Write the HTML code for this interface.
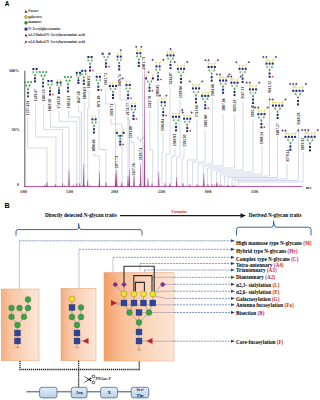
<!DOCTYPE html>
<html><head><meta charset="utf-8"><style>
html,body{margin:0;padding:0;background:#fff;width:319px;height:400px;overflow:hidden}
svg{display:block}
</style></head><body>
<svg width="319" height="400" viewBox="0 0 319 400" font-family="Liberation Serif">
<defs>
<linearGradient id="og" x1="0" y1="0" x2="1" y2="0">
<stop offset="0" stop-color="#f5ad80"/><stop offset="0.25" stop-color="#f8c5a3"/><stop offset="0.65" stop-color="#fbd8c2"/><stop offset="1" stop-color="#fde6d7"/>
</linearGradient>
<linearGradient id="og3" x1="0" y1="0" x2="1" y2="0"><stop offset="0" stop-color="#f39e64"/><stop offset="0.25" stop-color="#f8bf96"/><stop offset="0.62" stop-color="#fbd6bd"/><stop offset="1" stop-color="#fde5d4"/></linearGradient>
<linearGradient id="bg" x1="0" y1="0" x2="0" y2="1">
<stop offset="0" stop-color="#e3effa"/><stop offset="1" stop-color="#b6cfe8"/>
</linearGradient>
<marker id="ar" markerWidth="3.8" markerHeight="3.2" refX="0.2" refY="1.6" orient="auto" markerUnits="userSpaceOnUse"><path d="M0 0L3.8 1.6L0 3.2Z" fill="#26457c"/></marker>
</defs>
<text x="4.8" y="5.8" font-size="6.3" text-anchor="start" fill="#000" font-family="Liberation Sans" font-weight="bold" >A</text>
<path d="M24.4 12.8L26 9.9L27.6 12.8Z" fill="#8a2630"/>
<text x="28.2" y="12.0" font-size="3.6" text-anchor="start" fill="#333" font-family="Liberation Serif" font-weight="bold" >Fucose</text>
<circle cx="26" cy="17.0" r="1.45" fill="#f2e51c" stroke="#4b6b30" stroke-width="0.55"/>
<text x="28.2" y="17.599999999999998" font-size="3.6" text-anchor="start" fill="#333" font-family="Liberation Serif" font-weight="bold" >galactose</text>
<circle cx="26" cy="22.8" r="1.5" fill="#1fa33c" stroke="#2b5a35" stroke-width="0.4"/>
<text x="28.2" y="23.4" font-size="3.6" text-anchor="start" fill="#333" font-family="Liberation Serif" font-weight="bold" >mannose</text>
<rect x="24.60" y="27.70" width="2.8" height="2.8" fill="#1f2c7a"/>
<text x="28.2" y="29.7" font-size="3.6" text-anchor="start" fill="#333" font-family="Liberation Serif" font-weight="bold" >N-Acetylglucosamine</text>
<path d="M26.00 34.10L27.40 35.50L26.00 36.90L24.60 35.50Z" fill="#7a2f8c"/>
<path d="M26.80 36.30 L28.20 37.70" fill="none" stroke="#444" stroke-width="0.4" />
<text x="28.2" y="36.1" font-size="3.6" text-anchor="start" fill="#333" font-family="Liberation Serif" font-weight="bold" >α2,3-linked N-Acetylneuraminic acid</text>
<path d="M26.00 40.50L27.40 41.90L26.00 43.30L24.60 41.90Z" fill="#7a2f8c"/>
<path d="M25.20 42.70 L23.80 44.10" fill="none" stroke="#444" stroke-width="0.4" />
<text x="28.2" y="42.5" font-size="3.6" text-anchor="start" fill="#333" font-family="Liberation Serif" font-weight="bold" >α2,6-linked N-Acetylneuraminic acid</text>
<text x="19" y="72.3" font-size="4.0" text-anchor="end" fill="#222" font-family="Liberation Serif" font-weight="bold" >100%</text>
<text x="19.4" y="131.0" font-size="4.0" text-anchor="end" fill="#222" font-family="Liberation Serif" font-weight="bold" >50%</text>
<text x="19" y="185.9" font-size="3.8" text-anchor="end" fill="#222" font-family="Liberation Serif" font-weight="bold" >0</text>
<path d="M24.80 70.80 L24.80 187.00" fill="none" stroke="#666" stroke-width="1.1" />
<text x="23.5" y="192.8" font-size="3.6" text-anchor="middle" fill="#333" font-family="Liberation Serif" font-weight="bold" >1000</text>
<text x="69.5" y="192.8" font-size="3.6" text-anchor="middle" fill="#333" font-family="Liberation Serif" font-weight="bold" >1500</text>
<text x="114.5" y="192.8" font-size="3.6" text-anchor="middle" fill="#333" font-family="Liberation Serif" font-weight="bold" >2000</text>
<text x="161.5" y="192.8" font-size="3.6" text-anchor="middle" fill="#333" font-family="Liberation Serif" font-weight="bold" >2500</text>
<text x="208.0" y="192.8" font-size="3.6" text-anchor="middle" fill="#333" font-family="Liberation Serif" font-weight="bold" >3000</text>
<text x="254.5" y="192.8" font-size="3.6" text-anchor="middle" fill="#333" font-family="Liberation Serif" font-weight="bold" >3500</text>
<text x="308.7" y="189.2" font-size="3.4" text-anchor="middle" fill="#222" font-family="Liberation Serif" font-weight="bold" >m/z</text>
<path d="M27.60 117.00 L27.60 148.00 L47.00 148.00 L47.00 186.00" fill="none" stroke="#aebad4" stroke-width="0.55" />
<path d="M35.70 103.00 L35.70 137.00 L56.00 137.00 L56.00 186.00" fill="none" stroke="#aebad4" stroke-width="0.55" />
<path d="M43.70 104.00 L43.70 129.60 L62.60 129.60 L62.60 186.00" fill="none" stroke="#aebad4" stroke-width="0.55" />
<path d="M50.40 113.00 L50.40 127.20 L69.00 127.20 L69.00 186.00" fill="none" stroke="#aebad4" stroke-width="0.55" />
<path d="M59.00 111.00 L59.00 121.40 L76.80 121.40 L76.80 186.00" fill="none" stroke="#aebad4" stroke-width="0.55" />
<path d="M68.50 111.00 L68.50 117.00 L79.80 117.00 L79.80 186.00" fill="none" stroke="#aebad4" stroke-width="0.55" />
<path d="M78.60 105.40 L78.60 112.00 L81.50 112.00 L81.50 186.00" fill="none" stroke="#aebad4" stroke-width="0.55" />
<path d="M84.20 101.00 L84.20 186.00" fill="none" stroke="#aebad4" stroke-width="0.55" />
<path d="M89.00 90.00 L89.00 108.00 L87.70 108.00 L87.70 186.00" fill="none" stroke="#aebad4" stroke-width="0.55" />
<path d="M94.00 153.00 L94.00 156.00 L99.40 156.00 L99.40 186.00" fill="none" stroke="#aebad4" stroke-width="0.55" />
<path d="M99.00 109.00 L99.00 149.50 L106.00 149.50 L106.00 186.00" fill="none" stroke="#aebad4" stroke-width="0.55" />
<path d="M105.70 87.00 L105.70 104.00 L115.50 104.00 L115.50 186.00" fill="none" stroke="#aebad4" stroke-width="0.55" />
<path d="M111.00 119.00 L111.00 124.00 L122.00 124.00 L122.00 186.00" fill="none" stroke="#aebad4" stroke-width="0.55" />
<path d="M116.70 170.00 L116.70 186.00" fill="none" stroke="#aebad4" stroke-width="0.55" />
<path d="M120.00 87.00 L120.00 100.00 L128.00 100.00 L128.00 186.00" fill="none" stroke="#aebad4" stroke-width="0.55" />
<path d="M128.00 117.00 L128.00 120.00 L129.50 120.00 L129.50 186.00" fill="none" stroke="#aebad4" stroke-width="0.55" />
<path d="M131.00 140.00 L131.00 142.00 L134.00 142.00 L134.00 186.00" fill="none" stroke="#aebad4" stroke-width="0.55" />
<path d="M142.50 73.00 L142.50 186.00" fill="none" stroke="#aebad4" stroke-width="0.55" />
<path d="M134.00 177.00 L134.00 186.00" fill="none" stroke="#aebad4" stroke-width="0.55" />
<path d="M140.30 167.00 L140.30 186.00" fill="none" stroke="#aebad4" stroke-width="0.55" />
<path d="M149.80 109.50 L149.80 150.00 L152.70 150.00 L152.70 186.00" fill="none" stroke="#aebad4" stroke-width="0.55" />
<path d="M158.00 98.00 L158.00 186.00" fill="none" stroke="#aebad4" stroke-width="0.55" />
<path d="M163.00 133.00 L163.00 152.50 L162.00 152.50 L162.00 186.00" fill="none" stroke="#aebad4" stroke-width="0.55" />
<path d="M170.00 85.00 L170.00 154.00 L166.00 154.00 L166.00 186.00" fill="none" stroke="#aebad4" stroke-width="0.55" />
<path d="M175.00 148.00 L175.00 156.00 L171.30 156.00 L171.30 186.00" fill="none" stroke="#aebad4" stroke-width="0.55" />
<path d="M180.00 99.00 L180.00 157.00 L176.60 157.00 L176.60 186.00" fill="none" stroke="#aebad4" stroke-width="0.55" />
<path d="M184.00 148.00 L184.00 158.00 L182.00 158.00 L182.00 186.00" fill="none" stroke="#aebad4" stroke-width="0.55" />
<path d="M197.00 119.00 L197.00 160.00 L187.30 160.00 L187.30 186.00" fill="none" stroke="#aebad4" stroke-width="0.55" />
<path d="M205.20 130.00 L205.20 162.00 L192.60 162.00 L192.60 186.00" fill="none" stroke="#aebad4" stroke-width="0.55" />
<path d="M212.40 98.00 L212.40 164.00 L198.00 164.00 L198.00 186.00" fill="none" stroke="#aebad4" stroke-width="0.55" />
<path d="M223.10 114.00 L223.10 166.00 L203.30 166.00 L203.30 186.00" fill="none" stroke="#aebad4" stroke-width="0.55" />
<path d="M234.70 114.00 L234.70 168.00 L207.30 168.00 L207.30 186.00" fill="none" stroke="#aebad4" stroke-width="0.55" />
<path d="M242.90 101.00 L242.90 170.00 L211.30 170.00 L211.30 186.00" fill="none" stroke="#aebad4" stroke-width="0.55" />
<path d="M253.00 119.00 L253.00 172.00 L216.60 172.00 L216.60 186.00" fill="none" stroke="#aebad4" stroke-width="0.55" />
<path d="M262.00 146.00 L262.00 174.00 L220.60 174.00 L220.60 186.00" fill="none" stroke="#aebad4" stroke-width="0.55" />
<path d="M269.50 95.00 L269.50 176.00 L224.60 176.00 L224.60 186.00" fill="none" stroke="#aebad4" stroke-width="0.55" />
<path d="M277.60 137.00 L277.60 177.50 L228.00 177.50 L228.00 186.00" fill="none" stroke="#aebad4" stroke-width="0.55" />
<path d="M287.00 164.00 L287.00 179.00 L232.00 179.00 L232.00 186.00" fill="none" stroke="#aebad4" stroke-width="0.55" />
<path d="M298.50 128.00 L298.50 180.50 L235.00 180.50 L235.00 186.00" fill="none" stroke="#aebad4" stroke-width="0.55" />
<path d="M303.00 152.00 L303.00 182.00 L238.00 182.00 L238.00 186.00" fill="none" stroke="#aebad4" stroke-width="0.55" />
<path d="M46.45 186.5L47.00 182L47.55 186.5Z" fill="#a2347f" stroke="#a2347f" stroke-width="0.2"/>
<path d="M54.95 186.5L55.50 184L56.05 186.5Z" fill="#a2347f" stroke="#a2347f" stroke-width="0.2"/>
<path d="M62.05 186.5L62.60 183L63.15 186.5Z" fill="#a2347f" stroke="#a2347f" stroke-width="0.2"/>
<path d="M68.45 186.5L69.00 170L69.55 186.5Z" fill="#a2347f" stroke="#a2347f" stroke-width="0.2"/>
<path d="M76.25 186.5L76.80 183L77.35 186.5Z" fill="#a2347f" stroke="#a2347f" stroke-width="0.2"/>
<path d="M79.25 186.5L79.80 183L80.35 186.5Z" fill="#a2347f" stroke="#a2347f" stroke-width="0.2"/>
<path d="M83.05 186.5L83.60 164L84.15 186.5Z" fill="#a2347f" stroke="#a2347f" stroke-width="0.2"/>
<path d="M87.15 186.5L87.70 180L88.25 186.5Z" fill="#a2347f" stroke="#a2347f" stroke-width="0.2"/>
<path d="M98.85 186.5L99.40 172L99.95 186.5Z" fill="#a2347f" stroke="#a2347f" stroke-width="0.2"/>
<path d="M105.45 186.5L106.00 182L106.55 186.5Z" fill="#a2347f" stroke="#a2347f" stroke-width="0.2"/>
<path d="M114.95 186.5L115.50 174L116.05 186.5Z" fill="#a2347f" stroke="#a2347f" stroke-width="0.2"/>
<path d="M116.15 186.5L116.70 170L117.25 186.5Z" fill="#a2347f" stroke="#a2347f" stroke-width="0.2"/>
<path d="M121.45 186.5L122.00 182L122.55 186.5Z" fill="#a2347f" stroke="#a2347f" stroke-width="0.2"/>
<path d="M127.45 186.5L128.00 176L128.55 186.5Z" fill="#a2347f" stroke="#a2347f" stroke-width="0.2"/>
<path d="M128.95 186.5L129.50 170L130.05 186.5Z" fill="#a2347f" stroke="#a2347f" stroke-width="0.2"/>
<path d="M133.45 186.5L134.00 176L134.55 186.5Z" fill="#a2347f" stroke="#a2347f" stroke-width="0.2"/>
<path d="M140.15 186.5L140.70 162.5L141.25 186.5Z" fill="#a2347f" stroke="#a2347f" stroke-width="0.2"/>
<path d="M143.85 186.5L144.40 68L144.95 186.5Z" fill="#a2347f" stroke="#a2347f" stroke-width="0.2"/>
<path d="M147.45 186.5L148.00 178L148.55 186.5Z" fill="#a2347f" stroke="#a2347f" stroke-width="0.2"/>
<path d="M151.45 186.5L152.00 183L152.55 186.5Z" fill="#a2347f" stroke="#a2347f" stroke-width="0.2"/>
<path d="M158.25 186.5L158.80 172L159.35 186.5Z" fill="#a2347f" stroke="#a2347f" stroke-width="0.2"/>
<path d="M164.45 186.5L165.00 183L165.55 186.5Z" fill="#a2347f" stroke="#a2347f" stroke-width="0.2"/>
<path d="M169.45 186.5L170.00 183L170.55 186.5Z" fill="#a2347f" stroke="#a2347f" stroke-width="0.2"/>
<path d="M175.95 186.5L176.50 177L177.05 186.5Z" fill="#a2347f" stroke="#a2347f" stroke-width="0.2"/>
<path d="M182.45 186.5L183.00 183L183.55 186.5Z" fill="#a2347f" stroke="#a2347f" stroke-width="0.2"/>
<path d="M189.45 186.5L190.00 184L190.55 186.5Z" fill="#a2347f" stroke="#a2347f" stroke-width="0.2"/>
<path d="M196.45 186.5L197.00 184L197.55 186.5Z" fill="#a2347f" stroke="#a2347f" stroke-width="0.2"/>
<path d="M203.35 186.5L203.90 173L204.45 186.5Z" fill="#a2347f" stroke="#a2347f" stroke-width="0.2"/>
<path d="M207.45 186.5L208.00 184L208.55 186.5Z" fill="#a2347f" stroke="#a2347f" stroke-width="0.2"/>
<path d="M211.45 186.5L212.00 184L212.55 186.5Z" fill="#a2347f" stroke="#a2347f" stroke-width="0.2"/>
<path d="M216.45 186.5L217.00 182L217.55 186.5Z" fill="#a2347f" stroke="#a2347f" stroke-width="0.2"/>
<path d="M221.45 186.5L222.00 184.5L222.55 186.5Z" fill="#a2347f" stroke="#a2347f" stroke-width="0.2"/>
<path d="M227.45 186.5L228.00 185L228.55 186.5Z" fill="#a2347f" stroke="#a2347f" stroke-width="0.2"/>
<path d="M232.45 186.5L233.00 185L233.55 186.5Z" fill="#a2347f" stroke="#a2347f" stroke-width="0.2"/>
<path d="M25.00 186.6L25.50 186.31L26.00 186.6Z" fill="#a2347f"/>
<path d="M26.47 186.6L26.97 185.68L27.47 186.6Z" fill="#a2347f"/>
<path d="M27.80 186.6L28.30 186.00L28.80 186.6Z" fill="#a2347f"/>
<path d="M29.66 186.6L30.16 186.40L30.66 186.6Z" fill="#a2347f"/>
<path d="M31.77 186.6L32.27 186.40L32.77 186.6Z" fill="#a2347f"/>
<path d="M33.75 186.6L34.25 186.40L34.75 186.6Z" fill="#a2347f"/>
<path d="M35.12 186.6L35.62 186.20L36.12 186.6Z" fill="#a2347f"/>
<path d="M37.81 186.6L38.31 186.40L38.81 186.6Z" fill="#a2347f"/>
<path d="M39.41 186.6L39.91 185.76L40.41 186.6Z" fill="#a2347f"/>
<path d="M42.31 186.6L42.81 185.90L43.31 186.6Z" fill="#a2347f"/>
<path d="M44.23 186.6L44.73 183.98L45.23 186.6Z" fill="#a2347f"/>
<path d="M45.51 186.6L46.01 184.76L46.51 186.6Z" fill="#a2347f"/>
<path d="M47.23 186.6L47.73 186.39L48.23 186.6Z" fill="#a2347f"/>
<path d="M48.64 186.6L49.14 186.32L49.64 186.6Z" fill="#a2347f"/>
<path d="M51.31 186.6L51.81 186.38L52.31 186.6Z" fill="#a2347f"/>
<path d="M53.56 186.6L54.06 185.72L54.56 186.6Z" fill="#a2347f"/>
<path d="M55.43 186.6L55.93 185.97L56.43 186.6Z" fill="#a2347f"/>
<path d="M56.74 186.6L57.24 186.40L57.74 186.6Z" fill="#a2347f"/>
<path d="M58.31 186.6L58.81 185.58L59.31 186.6Z" fill="#a2347f"/>
<path d="M60.28 186.6L60.78 186.30L61.28 186.6Z" fill="#a2347f"/>
<path d="M62.54 186.6L63.04 186.11L63.54 186.6Z" fill="#a2347f"/>
<path d="M64.28 186.6L64.78 184.84L65.28 186.6Z" fill="#a2347f"/>
<path d="M66.74 186.6L67.24 186.35L67.74 186.6Z" fill="#a2347f"/>
<path d="M68.97 186.6L69.47 185.95L69.97 186.6Z" fill="#a2347f"/>
<path d="M71.75 186.6L72.25 185.19L72.75 186.6Z" fill="#a2347f"/>
<path d="M73.46 186.6L73.96 183.46L74.46 186.6Z" fill="#a2347f"/>
<path d="M74.88 186.6L75.38 186.17L75.88 186.6Z" fill="#a2347f"/>
<path d="M77.44 186.6L77.94 186.39L78.44 186.6Z" fill="#a2347f"/>
<path d="M79.52 186.6L80.02 186.40L80.52 186.6Z" fill="#a2347f"/>
<path d="M81.92 186.6L82.42 185.01L82.92 186.6Z" fill="#a2347f"/>
<path d="M84.15 186.6L84.65 184.31L85.15 186.6Z" fill="#a2347f"/>
<path d="M85.92 186.6L86.42 185.35L86.92 186.6Z" fill="#a2347f"/>
<path d="M88.19 186.6L88.69 185.79L89.19 186.6Z" fill="#a2347f"/>
<path d="M90.21 186.6L90.71 184.55L91.21 186.6Z" fill="#a2347f"/>
<path d="M93.11 186.6L93.61 186.07L94.11 186.6Z" fill="#a2347f"/>
<path d="M95.50 186.6L96.00 186.40L96.50 186.6Z" fill="#a2347f"/>
<path d="M97.97 186.6L98.47 185.55L98.97 186.6Z" fill="#a2347f"/>
<path d="M100.96 186.6L101.46 184.67L101.96 186.6Z" fill="#a2347f"/>
<path d="M102.67 186.6L103.17 186.22L103.67 186.6Z" fill="#a2347f"/>
<path d="M105.07 186.6L105.57 186.40L106.07 186.6Z" fill="#a2347f"/>
<path d="M107.10 186.6L107.60 186.39L108.10 186.6Z" fill="#a2347f"/>
<path d="M108.51 186.6L109.01 186.40L109.51 186.6Z" fill="#a2347f"/>
<path d="M111.10 186.6L111.60 186.39L112.10 186.6Z" fill="#a2347f"/>
<path d="M112.74 186.6L113.24 186.21L113.74 186.6Z" fill="#a2347f"/>
<path d="M115.51 186.6L116.01 186.40L116.51 186.6Z" fill="#a2347f"/>
<path d="M117.52 186.6L118.02 185.88L118.52 186.6Z" fill="#a2347f"/>
<path d="M120.31 186.6L120.81 184.68L121.31 186.6Z" fill="#a2347f"/>
<path d="M123.06 186.6L123.56 186.33L124.06 186.6Z" fill="#a2347f"/>
<path d="M125.01 186.6L125.51 186.26L126.01 186.6Z" fill="#a2347f"/>
<path d="M127.80 186.6L128.30 183.66L128.80 186.6Z" fill="#a2347f"/>
<path d="M129.27 186.6L129.77 186.38L130.27 186.6Z" fill="#a2347f"/>
<path d="M130.89 186.6L131.39 186.36L131.89 186.6Z" fill="#a2347f"/>
<path d="M132.96 186.6L133.46 185.76L133.96 186.6Z" fill="#a2347f"/>
<path d="M134.64 186.6L135.14 186.40L135.64 186.6Z" fill="#a2347f"/>
<path d="M136.59 186.6L137.09 186.24L137.59 186.6Z" fill="#a2347f"/>
<path d="M138.81 186.6L139.31 183.70L139.81 186.6Z" fill="#a2347f"/>
<path d="M141.25 186.6L141.75 185.97L142.25 186.6Z" fill="#a2347f"/>
<path d="M143.57 186.6L144.07 185.44L144.57 186.6Z" fill="#a2347f"/>
<path d="M144.86 186.6L145.36 184.13L145.86 186.6Z" fill="#a2347f"/>
<path d="M147.47 186.6L147.97 184.31L148.47 186.6Z" fill="#a2347f"/>
<path d="M150.10 186.6L150.60 186.21L151.10 186.6Z" fill="#a2347f"/>
<path d="M152.02 186.6L152.52 186.40L153.02 186.6Z" fill="#a2347f"/>
<path d="M154.36 186.6L154.86 186.40L155.36 186.6Z" fill="#a2347f"/>
<path d="M155.68 186.6L156.18 186.37L156.68 186.6Z" fill="#a2347f"/>
<path d="M157.18 186.6L157.68 186.28L158.18 186.6Z" fill="#a2347f"/>
<path d="M158.47 186.6L158.97 186.40L159.47 186.6Z" fill="#a2347f"/>
<path d="M159.94 186.6L160.44 186.40L160.94 186.6Z" fill="#a2347f"/>
<path d="M161.80 186.6L162.30 186.40L162.80 186.6Z" fill="#a2347f"/>
<path d="M164.57 186.6L165.07 185.68L165.57 186.6Z" fill="#a2347f"/>
<path d="M166.04 186.6L166.54 186.35L167.04 186.6Z" fill="#a2347f"/>
<path d="M167.86 186.6L168.36 186.25L168.86 186.6Z" fill="#a2347f"/>
<path d="M169.29 186.6L169.79 184.49L170.29 186.6Z" fill="#a2347f"/>
<path d="M172.27 186.6L172.77 186.08L173.27 186.6Z" fill="#a2347f"/>
<path d="M174.34 186.6L174.84 186.40L175.34 186.6Z" fill="#a2347f"/>
<path d="M175.73 186.6L176.23 186.27L176.73 186.6Z" fill="#a2347f"/>
<path d="M177.40 186.6L177.90 184.62L178.40 186.6Z" fill="#a2347f"/>
<path d="M178.90 186.6L179.40 186.40L179.90 186.6Z" fill="#a2347f"/>
<path d="M181.81 186.6L182.31 185.94L182.81 186.6Z" fill="#a2347f"/>
<path d="M183.27 186.6L183.77 185.90L184.27 186.6Z" fill="#a2347f"/>
<path d="M184.52 186.6L185.02 185.94L185.52 186.6Z" fill="#a2347f"/>
<path d="M187.48 186.6L187.98 184.39L188.48 186.6Z" fill="#a2347f"/>
<path d="M189.93 186.6L190.43 186.34L190.93 186.6Z" fill="#a2347f"/>
<path d="M191.79 186.6L192.29 186.39L192.79 186.6Z" fill="#a2347f"/>
<path d="M194.38 186.6L194.88 185.93L195.38 186.6Z" fill="#a2347f"/>
<path d="M196.99 186.6L197.49 186.29L197.99 186.6Z" fill="#a2347f"/>
<path d="M198.59 186.6L199.09 184.73L199.59 186.6Z" fill="#a2347f"/>
<path d="M201.56 186.6L202.06 184.47L202.56 186.6Z" fill="#a2347f"/>
<path d="M204.21 186.6L204.71 184.69L205.21 186.6Z" fill="#a2347f"/>
<path d="M206.74 186.6L207.24 186.36L207.74 186.6Z" fill="#a2347f"/>
<path d="M208.87 186.6L209.37 186.26L209.87 186.6Z" fill="#a2347f"/>
<path d="M210.13 186.6L210.63 186.40L211.13 186.6Z" fill="#a2347f"/>
<path d="M211.83 186.6L212.33 186.35L212.83 186.6Z" fill="#a2347f"/>
<path d="M214.28 186.6L214.78 183.67L215.28 186.6Z" fill="#a2347f"/>
<path d="M216.28 186.6L216.78 183.83L217.28 186.6Z" fill="#a2347f"/>
<path d="M219.26 186.6L219.76 183.68L220.26 186.6Z" fill="#a2347f"/>
<path d="M221.12 186.6L221.62 186.37L222.12 186.6Z" fill="#a2347f"/>
<path d="M222.72 186.6L223.22 186.38L223.72 186.6Z" fill="#a2347f"/>
<path d="M224.29 186.6L224.79 185.77L225.29 186.6Z" fill="#a2347f"/>
<path d="M227.11 186.6L227.61 184.86L228.11 186.6Z" fill="#a2347f"/>
<path d="M229.18 186.6L229.68 185.68L230.18 186.6Z" fill="#a2347f"/>
<path d="M231.82 186.6L232.32 186.40L232.82 186.6Z" fill="#a2347f"/>
<path d="M234.20 186.6L234.70 185.65L235.20 186.6Z" fill="#a2347f"/>
<path d="M236.81 186.6L237.31 185.98L237.81 186.6Z" fill="#a2347f"/>
<path d="M238.87 186.6L239.37 186.39L239.87 186.6Z" fill="#a2347f"/>
<path d="M241.49 186.6L241.99 186.36L242.49 186.6Z" fill="#a2347f"/>
<path d="M244.13 186.6L244.63 185.48L245.13 186.6Z" fill="#a2347f"/>
<path d="M246.05 186.6L246.55 186.34L247.05 186.6Z" fill="#a2347f"/>
<path d="M248.95 186.6L249.45 186.02L249.95 186.6Z" fill="#a2347f"/>
<path d="M250.46 186.6L250.96 186.40L251.46 186.6Z" fill="#a2347f"/>
<path d="M251.93 186.6L252.43 185.66L252.93 186.6Z" fill="#a2347f"/>
<path d="M254.58 186.6L255.08 186.40L255.58 186.6Z" fill="#a2347f"/>
<path d="M257.27 186.6L257.77 185.46L258.27 186.6Z" fill="#a2347f"/>
<path d="M259.65 186.6L260.15 186.36L260.65 186.6Z" fill="#a2347f"/>
<path d="M261.84 186.6L262.34 186.40L262.84 186.6Z" fill="#a2347f"/>
<path d="M263.07 186.6L263.57 185.48L264.07 186.6Z" fill="#a2347f"/>
<path d="M265.43 186.6L265.93 186.25L266.43 186.6Z" fill="#a2347f"/>
<path d="M268.32 186.6L268.82 186.32L269.32 186.6Z" fill="#a2347f"/>
<path d="M271.08 186.6L271.58 185.84L272.08 186.6Z" fill="#a2347f"/>
<path d="M272.66 186.6L273.16 186.38L273.66 186.6Z" fill="#a2347f"/>
<path d="M274.39 186.6L274.89 186.39L275.39 186.6Z" fill="#a2347f"/>
<path d="M276.65 186.6L277.15 186.38L277.65 186.6Z" fill="#a2347f"/>
<path d="M278.60 186.6L279.10 186.40L279.60 186.6Z" fill="#a2347f"/>
<path d="M281.44 186.6L281.94 186.36L282.44 186.6Z" fill="#a2347f"/>
<path d="M283.46 186.6L283.96 186.20L284.46 186.6Z" fill="#a2347f"/>
<path d="M286.29 186.6L286.79 186.33L287.29 186.6Z" fill="#a2347f"/>
<path d="M289.14 186.6L289.64 186.27L290.14 186.6Z" fill="#a2347f"/>
<path d="M291.30 186.6L291.80 186.26L292.30 186.6Z" fill="#a2347f"/>
<path d="M292.53 186.6L293.03 186.31L293.53 186.6Z" fill="#a2347f"/>
<path d="M294.06 186.6L294.56 186.40L295.06 186.6Z" fill="#a2347f"/>
<path d="M296.70 186.6L297.20 186.39L297.70 186.6Z" fill="#a2347f"/>
<path d="M298.76 186.6L299.26 186.02L299.76 186.6Z" fill="#a2347f"/>
<path d="M24.40 186.60 L302.00 186.60" fill="none" stroke="#a83b86" stroke-width="0.9" />
<path d="M25.00 82.00 L28.00 89.20 L31.00 82.00" fill="none" stroke="#888" stroke-width="0.35" />
<path d="M28.00 89.20 L28.00 96.40" fill="none" stroke="#888" stroke-width="0.35" />
<circle cx="24.80" cy="82.00" r="0.95" fill="#1fa33c"/>
<circle cx="28.00" cy="82.00" r="0.95" fill="#1fa33c"/>
<circle cx="31.20" cy="82.00" r="0.95" fill="#1fa33c"/>
<circle cx="26.40" cy="85.60" r="0.95" fill="#1fa33c"/>
<circle cx="29.60" cy="85.60" r="0.95" fill="#1fa33c"/>
<circle cx="28.00" cy="89.20" r="0.95" fill="#1fa33c"/>
<rect x="27.05" y="91.85" width="1.9" height="1.9" fill="#1f2c7a"/>
<rect x="27.05" y="95.45" width="1.9" height="1.9" fill="#1f2c7a"/>
<text transform="translate(29.00 108.00) rotate(-90)" font-size="3.8" text-anchor="middle" fill="#222" font-family="Liberation Serif" font-weight="bold">1257.424</text>
<path d="M35.00 81.40 L35.00 75.20" fill="none" stroke="#999" stroke-width="0.35" />
<path d="M33.40 69.00 L33.20 72.10 L35.00 75.20" fill="none" stroke="#9c9c9c" stroke-width="0.35" />
<path d="M36.60 69.00 L36.80 72.10 L35.00 75.20" fill="none" stroke="#9c9c9c" stroke-width="0.35" />
<rect x="32.40" y="68.00" width="2.0" height="2.0" fill="#1f2c7a"/>
<rect x="35.60" y="68.00" width="2.0" height="2.0" fill="#1f2c7a"/>
<circle cx="33.20" cy="72.10" r="0.9" fill="#4fae5c"/>
<circle cx="36.80" cy="72.10" r="0.9" fill="#4fae5c"/>
<circle cx="35.00" cy="75.20" r="0.9" fill="#3c8f4c"/>
<rect x="34.00" y="77.30" width="2.0" height="2.0" fill="#1f2c7a"/>
<rect x="34.00" y="80.40" width="2.0" height="2.0" fill="#1f2c7a"/>
<text transform="translate(37.10 95.00) rotate(-90)" font-size="3.8" text-anchor="middle" fill="#222" font-family="Liberation Serif" font-weight="bold">1419.47</text>
<path d="M40.00 72.00 L43.00 79.20 L46.00 72.00" fill="none" stroke="#888" stroke-width="0.35" />
<path d="M43.00 79.20 L43.00 86.40" fill="none" stroke="#888" stroke-width="0.35" />
<circle cx="39.80" cy="72.00" r="0.95" fill="#1fa33c"/>
<circle cx="43.00" cy="72.00" r="0.95" fill="#1fa33c"/>
<circle cx="46.20" cy="72.00" r="0.95" fill="#1fa33c"/>
<circle cx="41.40" cy="75.60" r="0.95" fill="#1fa33c"/>
<circle cx="44.60" cy="75.60" r="0.95" fill="#1fa33c"/>
<circle cx="43.00" cy="79.20" r="0.95" fill="#1fa33c"/>
<rect x="42.05" y="81.85" width="1.9" height="1.9" fill="#1f2c7a"/>
<rect x="42.05" y="85.45" width="1.9" height="1.9" fill="#1f2c7a"/>
<text transform="translate(45.10 95.50) rotate(-90)" font-size="3.8" text-anchor="middle" fill="#222" font-family="Liberation Serif" font-weight="bold">1581.53</text>
<path d="M50.00 94.60 L50.00 87.80" fill="none" stroke="#999" stroke-width="0.35" />
<path d="M48.40 81.00 L48.20 84.40 L50.00 87.80" fill="none" stroke="#9c9c9c" stroke-width="0.35" />
<path d="M51.60 81.00 L51.80 84.40 L50.00 87.80" fill="none" stroke="#9c9c9c" stroke-width="0.35" />
<rect x="47.40" y="80.00" width="2.0" height="2.0" fill="#1f2c7a"/>
<rect x="50.60" y="80.00" width="2.0" height="2.0" fill="#1f2c7a"/>
<circle cx="48.20" cy="84.40" r="0.9" fill="#4fae5c"/>
<circle cx="51.80" cy="84.40" r="0.9" fill="#4fae5c"/>
<circle cx="50.00" cy="87.80" r="0.9" fill="#3c8f4c"/>
<rect x="49.00" y="90.20" width="2.0" height="2.0" fill="#1f2c7a"/>
<rect x="49.00" y="93.60" width="2.0" height="2.0" fill="#1f2c7a"/>
<path d="M51.60 94.60L53.60 93.60L53.60 95.60Z" fill="#cc1f2e"/>
<text transform="translate(51.40 105.00) rotate(-90)" font-size="3.8" text-anchor="middle" fill="#222" font-family="Liberation Serif" font-weight="bold">1663.58</text>
<path d="M59.00 93.00 L59.00 87.80" fill="none" stroke="#999" stroke-width="0.35" />
<path d="M57.40 82.60 L57.20 85.20 L59.00 87.80" fill="none" stroke="#9c9c9c" stroke-width="0.35" />
<path d="M60.60 82.60 L60.80 85.20 L59.00 87.80" fill="none" stroke="#9c9c9c" stroke-width="0.35" />
<path d="M57.40 80.00 L57.40 82.60" fill="none" stroke="#c8c27a" stroke-width="0.4" />
<circle cx="57.40" cy="80.00" r="0.85" fill="#e9df55"/>
<path d="M60.60 80.00 L60.60 82.60" fill="none" stroke="#c8c27a" stroke-width="0.4" />
<circle cx="60.60" cy="80.00" r="0.85" fill="#e9df55"/>
<rect x="56.40" y="81.60" width="2.0" height="2.0" fill="#1f2c7a"/>
<rect x="59.60" y="81.60" width="2.0" height="2.0" fill="#1f2c7a"/>
<circle cx="57.20" cy="85.20" r="0.9" fill="#4fae5c"/>
<circle cx="60.80" cy="85.20" r="0.9" fill="#4fae5c"/>
<circle cx="59.00" cy="87.80" r="0.9" fill="#3c8f4c"/>
<rect x="58.00" y="89.40" width="2.0" height="2.0" fill="#1f2c7a"/>
<rect x="58.00" y="92.00" width="2.0" height="2.0" fill="#1f2c7a"/>
<text transform="translate(60.40 102.50) rotate(-90)" font-size="3.8" text-anchor="middle" fill="#222" font-family="Liberation Serif" font-weight="bold">1743.58</text>
<path d="M65.00 77.00 L68.00 84.20 L71.00 77.00" fill="none" stroke="#888" stroke-width="0.35" />
<path d="M68.00 84.20 L68.00 91.40" fill="none" stroke="#888" stroke-width="0.35" />
<circle cx="64.80" cy="77.00" r="0.95" fill="#1fa33c"/>
<circle cx="68.00" cy="77.00" r="0.95" fill="#1fa33c"/>
<circle cx="71.20" cy="77.00" r="0.95" fill="#1fa33c"/>
<circle cx="66.40" cy="80.60" r="0.95" fill="#1fa33c"/>
<circle cx="69.60" cy="80.60" r="0.95" fill="#1fa33c"/>
<circle cx="68.00" cy="84.20" r="0.95" fill="#1fa33c"/>
<rect x="67.05" y="86.85" width="1.9" height="1.9" fill="#1f2c7a"/>
<rect x="67.05" y="90.45" width="1.9" height="1.9" fill="#1f2c7a"/>
<text transform="translate(69.90 102.00) rotate(-90)" font-size="3.8" text-anchor="middle" fill="#222" font-family="Liberation Serif" font-weight="bold">1905.63</text>
<path d="M83.80 84.00 L83.80 77.40" fill="none" stroke="#999" stroke-width="0.35" />
<path d="M82.20 70.80 L82.00 74.10 L83.80 77.40" fill="none" stroke="#9c9c9c" stroke-width="0.35" />
<path d="M85.40 70.80 L85.60 74.10 L83.80 77.40" fill="none" stroke="#9c9c9c" stroke-width="0.35" />
<rect x="81.20" y="69.80" width="2.0" height="2.0" fill="#1f2c7a"/>
<rect x="84.40" y="69.80" width="2.0" height="2.0" fill="#1f2c7a"/>
<circle cx="82.00" cy="74.10" r="0.9" fill="#4fae5c"/>
<circle cx="85.60" cy="74.10" r="0.9" fill="#4fae5c"/>
<circle cx="83.80" cy="77.40" r="0.9" fill="#3c8f4c"/>
<rect x="82.80" y="79.70" width="2.0" height="2.0" fill="#1f2c7a"/>
<rect x="82.80" y="83.00" width="2.0" height="2.0" fill="#1f2c7a"/>
<text transform="translate(85.60 93.30) rotate(-90)" font-size="3.8" text-anchor="middle" fill="#222" font-family="Liberation Serif" font-weight="bold">1809.63</text>
<path d="M78.40 83.00 L78.40 77.90" fill="none" stroke="#999" stroke-width="0.35" />
<path d="M76.80 72.80 L76.60 75.35 L78.40 77.90" fill="none" stroke="#9c9c9c" stroke-width="0.35" />
<path d="M80.00 72.80 L80.20 75.35 L78.40 77.90" fill="none" stroke="#9c9c9c" stroke-width="0.35" />
<rect x="75.80" y="71.80" width="2.0" height="2.0" fill="#1f2c7a"/>
<rect x="79.00" y="71.80" width="2.0" height="2.0" fill="#1f2c7a"/>
<circle cx="76.60" cy="75.35" r="0.9" fill="#4fae5c"/>
<circle cx="80.20" cy="75.35" r="0.9" fill="#4fae5c"/>
<circle cx="78.40" cy="77.90" r="0.9" fill="#3c8f4c"/>
<rect x="77.40" y="79.45" width="2.0" height="2.0" fill="#1f2c7a"/>
<rect x="77.40" y="82.00" width="2.0" height="2.0" fill="#1f2c7a"/>
<text transform="translate(80.00 97.55) rotate(-90)" font-size="3.8" text-anchor="middle" fill="#222" font-family="Liberation Serif" font-weight="bold">1647.58</text>
<path d="M90.00 70.60 L90.00 63.80" fill="none" stroke="#999" stroke-width="0.35" />
<path d="M88.40 57.00 L88.20 60.40 L90.00 63.80" fill="none" stroke="#9c9c9c" stroke-width="0.35" />
<path d="M91.60 57.00 L91.80 60.40 L90.00 63.80" fill="none" stroke="#9c9c9c" stroke-width="0.35" />
<rect x="87.40" y="56.00" width="2.0" height="2.0" fill="#1f2c7a"/>
<rect x="90.60" y="56.00" width="2.0" height="2.0" fill="#1f2c7a"/>
<circle cx="88.20" cy="60.40" r="0.9" fill="#4fae5c"/>
<circle cx="91.80" cy="60.40" r="0.9" fill="#4fae5c"/>
<circle cx="90.00" cy="63.80" r="0.9" fill="#3c8f4c"/>
<rect x="89.00" y="66.20" width="2.0" height="2.0" fill="#1f2c7a"/>
<rect x="89.00" y="69.60" width="2.0" height="2.0" fill="#1f2c7a"/>
<path d="M91.60 70.60L93.60 69.60L93.60 71.60Z" fill="#cc1f2e"/>
<text transform="translate(90.40 82.00) rotate(-90)" font-size="3.8" text-anchor="middle" fill="#222" font-family="Liberation Serif" font-weight="bold">1866.65</text>
<path d="M98.30 90.00 L98.30 83.40" fill="none" stroke="#999" stroke-width="0.35" />
<path d="M96.70 76.80 L96.50 80.10 L98.30 83.40" fill="none" stroke="#9c9c9c" stroke-width="0.35" />
<path d="M99.90 76.80 L100.10 80.10 L98.30 83.40" fill="none" stroke="#9c9c9c" stroke-width="0.35" />
<path d="M96.70 73.50 L96.70 76.80" fill="none" stroke="#c8c27a" stroke-width="0.4" />
<circle cx="96.70" cy="73.50" r="0.85" fill="#e9df55"/>
<path d="M99.90 73.50 L99.90 76.80" fill="none" stroke="#c8c27a" stroke-width="0.4" />
<circle cx="99.90" cy="73.50" r="0.85" fill="#e9df55"/>
<rect x="95.70" y="75.80" width="2.0" height="2.0" fill="#1f2c7a"/>
<rect x="98.90" y="75.80" width="2.0" height="2.0" fill="#1f2c7a"/>
<circle cx="96.50" cy="80.10" r="0.9" fill="#4fae5c"/>
<circle cx="100.10" cy="80.10" r="0.9" fill="#4fae5c"/>
<circle cx="98.30" cy="83.40" r="0.9" fill="#3c8f4c"/>
<rect x="97.30" y="85.70" width="2.0" height="2.0" fill="#1f2c7a"/>
<rect x="97.30" y="89.00" width="2.0" height="2.0" fill="#1f2c7a"/>
<path d="M99.90 90.00L101.90 89.00L101.90 91.00Z" fill="#cc1f2e"/>
<text transform="translate(99.90 101.65) rotate(-90)" font-size="3.8" text-anchor="middle" fill="#222" font-family="Liberation Serif" font-weight="bold">1971.69</text>
<path d="M106.00 66.70 L106.00 60.20" fill="none" stroke="#999" stroke-width="0.35" />
<path d="M102.60 53.70 L104.20 56.95 L106.00 60.20" fill="none" stroke="#9c9c9c" stroke-width="0.35" />
<path d="M109.40 53.70 L107.80 56.95 L106.00 60.20" fill="none" stroke="#9c9c9c" stroke-width="0.35" />
<rect x="101.60" y="52.70" width="2.0" height="2.0" fill="#1f2c7a"/>
<rect x="108.40" y="52.70" width="2.0" height="2.0" fill="#1f2c7a"/>
<circle cx="104.20" cy="56.95" r="0.9" fill="#4fae5c"/>
<circle cx="107.80" cy="56.95" r="0.9" fill="#4fae5c"/>
<circle cx="106.00" cy="60.20" r="0.9" fill="#3c8f4c"/>
<rect x="105.00" y="62.45" width="2.0" height="2.0" fill="#1f2c7a"/>
<rect x="105.00" y="65.70" width="2.0" height="2.0" fill="#1f2c7a"/>
<path d="M107.60 66.70L109.60 65.70L109.60 67.70Z" fill="#cc1f2e"/>
<text transform="translate(107.30 79.00) rotate(-90)" font-size="3.8" text-anchor="middle" fill="#222" font-family="Liberation Serif" font-weight="bold">2012.72</text>
<path d="M113.00 98.00 L113.00 92.00" fill="none" stroke="#999" stroke-width="0.35" />
<path d="M109.90 86.00 L110.60 89.00 L113.00 92.00" fill="none" stroke="#9c9c9c" stroke-width="0.35" />
<path d="M113.00 86.00 L113.00 89.00 L113.00 92.00" fill="none" stroke="#9c9c9c" stroke-width="0.35" />
<path d="M116.10 86.00 L115.40 89.00 L113.00 92.00" fill="none" stroke="#9c9c9c" stroke-width="0.35" />
<path d="M109.90 83.00 L109.90 86.00" fill="none" stroke="#c8c27a" stroke-width="0.4" />
<circle cx="109.90" cy="83.00" r="0.85" fill="#e9df55"/>
<path d="M113.00 83.00 L113.00 86.00" fill="none" stroke="#c8c27a" stroke-width="0.4" />
<circle cx="113.00" cy="83.00" r="0.85" fill="#e9df55"/>
<path d="M116.10 83.00 L116.10 86.00" fill="none" stroke="#c8c27a" stroke-width="0.4" />
<circle cx="116.10" cy="83.00" r="0.85" fill="#e9df55"/>
<rect x="108.90" y="85.00" width="2.0" height="2.0" fill="#1f2c7a"/>
<rect x="112.00" y="85.00" width="2.0" height="2.0" fill="#1f2c7a"/>
<rect x="115.10" y="85.00" width="2.0" height="2.0" fill="#1f2c7a"/>
<circle cx="110.60" cy="89.00" r="0.9" fill="#4fae5c"/>
<circle cx="115.40" cy="89.00" r="0.9" fill="#4fae5c"/>
<circle cx="113.00" cy="92.00" r="0.9" fill="#3c8f4c"/>
<rect x="112.00" y="94.00" width="2.0" height="2.0" fill="#1f2c7a"/>
<rect x="112.00" y="97.00" width="2.0" height="2.0" fill="#1f2c7a"/>
<text transform="translate(112.90 110.00) rotate(-90)" font-size="3.8" text-anchor="middle" fill="#222" font-family="Liberation Serif" font-weight="bold">2028.71</text>
<path d="M119.20 69.40 L119.20 63.00" fill="none" stroke="#999" stroke-width="0.35" />
<path d="M117.60 56.60 L117.40 59.80 L119.20 63.00" fill="none" stroke="#9c9c9c" stroke-width="0.35" />
<path d="M120.80 56.60 L121.00 59.80 L119.20 63.00" fill="none" stroke="#9c9c9c" stroke-width="0.35" />
<path d="M120.80 50.20 L120.16 53.90" fill="none" stroke="#c8c27a" stroke-width="0.5" />
<path d="M120.80 49.05L121.95 50.20L120.80 51.35L119.65 50.20Z" fill="#5b3b84"/>
<path d="M117.60 53.40 L117.60 56.60" fill="none" stroke="#c8c27a" stroke-width="0.4" />
<circle cx="117.60" cy="53.40" r="0.85" fill="#e9df55"/>
<path d="M120.80 53.40 L120.80 56.60" fill="none" stroke="#c8c27a" stroke-width="0.4" />
<circle cx="120.80" cy="53.40" r="0.85" fill="#e9df55"/>
<rect x="116.60" y="55.60" width="2.0" height="2.0" fill="#1f2c7a"/>
<rect x="119.80" y="55.60" width="2.0" height="2.0" fill="#1f2c7a"/>
<circle cx="117.40" cy="59.80" r="0.9" fill="#4fae5c"/>
<circle cx="121.00" cy="59.80" r="0.9" fill="#4fae5c"/>
<circle cx="119.20" cy="63.00" r="0.9" fill="#3c8f4c"/>
<rect x="118.20" y="65.20" width="2.0" height="2.0" fill="#1f2c7a"/>
<rect x="118.20" y="68.40" width="2.0" height="2.0" fill="#1f2c7a"/>
<text transform="translate(121.00 80.45) rotate(-90)" font-size="3.8" text-anchor="middle" fill="#222" font-family="Liberation Serif" font-weight="bold">2069.74</text>
<path d="M128.10 98.20 L128.10 91.60" fill="none" stroke="#999" stroke-width="0.35" />
<path d="M126.50 85.00 L126.30 88.30 L128.10 91.60" fill="none" stroke="#9c9c9c" stroke-width="0.35" />
<path d="M129.70 85.00 L129.90 88.30 L128.10 91.60" fill="none" stroke="#9c9c9c" stroke-width="0.35" />
<path d="M122.60 78.40 L127.14 82.20" fill="none" stroke="#c8c27a" stroke-width="0.5" />
<path d="M122.60 77.25L123.75 78.40L122.60 79.55L121.45 78.40Z" fill="#5b3b84"/>
<path d="M126.50 81.70 L126.50 85.00" fill="none" stroke="#c8c27a" stroke-width="0.4" />
<circle cx="126.50" cy="81.70" r="0.85" fill="#e9df55"/>
<path d="M129.70 81.70 L129.70 85.00" fill="none" stroke="#c8c27a" stroke-width="0.4" />
<circle cx="129.70" cy="81.70" r="0.85" fill="#e9df55"/>
<rect x="125.50" y="84.00" width="2.0" height="2.0" fill="#1f2c7a"/>
<rect x="128.70" y="84.00" width="2.0" height="2.0" fill="#1f2c7a"/>
<circle cx="126.30" cy="88.30" r="0.9" fill="#4fae5c"/>
<circle cx="129.90" cy="88.30" r="0.9" fill="#4fae5c"/>
<circle cx="128.10" cy="91.60" r="0.9" fill="#3c8f4c"/>
<rect x="127.10" y="93.90" width="2.0" height="2.0" fill="#1f2c7a"/>
<rect x="127.10" y="97.20" width="2.0" height="2.0" fill="#1f2c7a"/>
<path d="M129.70 98.20L131.70 97.20L131.70 99.20Z" fill="#cc1f2e"/>
<text transform="translate(129.40 109.00) rotate(-90)" font-size="3.8" text-anchor="middle" fill="#222" font-family="Liberation Serif" font-weight="bold">2174.77</text>
<path d="M133.50 119.00 L133.50 112.60" fill="none" stroke="#999" stroke-width="0.35" />
<path d="M131.90 106.20 L131.70 109.40 L133.50 112.60" fill="none" stroke="#9c9c9c" stroke-width="0.35" />
<path d="M135.10 106.20 L135.30 109.40 L133.50 112.60" fill="none" stroke="#9c9c9c" stroke-width="0.35" />
<path d="M131.90 103.00 L131.90 106.20" fill="none" stroke="#c8c27a" stroke-width="0.4" />
<circle cx="131.90" cy="103.00" r="0.85" fill="#e9df55"/>
<path d="M135.10 103.00 L135.10 106.20" fill="none" stroke="#c8c27a" stroke-width="0.4" />
<circle cx="135.10" cy="103.00" r="0.85" fill="#e9df55"/>
<rect x="130.90" y="105.20" width="2.0" height="2.0" fill="#1f2c7a"/>
<rect x="134.10" y="105.20" width="2.0" height="2.0" fill="#1f2c7a"/>
<circle cx="131.70" cy="109.40" r="0.9" fill="#4fae5c"/>
<circle cx="135.30" cy="109.40" r="0.9" fill="#4fae5c"/>
<circle cx="133.50" cy="112.60" r="0.9" fill="#3c8f4c"/>
<rect x="132.50" y="114.80" width="2.0" height="2.0" fill="#1f2c7a"/>
<rect x="132.50" y="118.00" width="2.0" height="2.0" fill="#1f2c7a"/>
<path d="M135.10 119.00L137.10 118.00L137.10 120.00Z" fill="#cc1f2e"/>
<text transform="translate(132.40 132.00) rotate(-90)" font-size="3.8" text-anchor="middle" fill="#222" font-family="Liberation Serif" font-weight="bold">2231.80</text>
<path d="M138.80 66.00 L138.80 59.60" fill="none" stroke="#999" stroke-width="0.35" />
<path d="M137.20 53.20 L137.00 56.40 L138.80 59.60" fill="none" stroke="#9c9c9c" stroke-width="0.35" />
<path d="M140.40 53.20 L140.60 56.40 L138.80 59.60" fill="none" stroke="#9c9c9c" stroke-width="0.35" />
<path d="M136.20 46.80 L137.84 50.50" fill="none" stroke="#c8c27a" stroke-width="0.5" />
<path d="M136.20 45.65L137.35 46.80L136.20 47.95L135.05 46.80Z" fill="#5b3b84"/>
<path d="M141.40 46.80 L139.76 50.50" fill="none" stroke="#c8c27a" stroke-width="0.5" />
<path d="M141.40 45.65L142.55 46.80L141.40 47.95L140.25 46.80Z" fill="#5b3b84"/>
<path d="M137.20 50.00 L137.20 53.20" fill="none" stroke="#c8c27a" stroke-width="0.4" />
<circle cx="137.20" cy="50.00" r="0.85" fill="#e9df55"/>
<path d="M140.40 50.00 L140.40 53.20" fill="none" stroke="#c8c27a" stroke-width="0.4" />
<circle cx="140.40" cy="50.00" r="0.85" fill="#e9df55"/>
<rect x="136.20" y="52.20" width="2.0" height="2.0" fill="#1f2c7a"/>
<rect x="139.40" y="52.20" width="2.0" height="2.0" fill="#1f2c7a"/>
<circle cx="137.00" cy="56.40" r="0.9" fill="#4fae5c"/>
<circle cx="140.60" cy="56.40" r="0.9" fill="#4fae5c"/>
<circle cx="138.80" cy="59.60" r="0.9" fill="#3c8f4c"/>
<rect x="137.80" y="61.80" width="2.0" height="2.0" fill="#1f2c7a"/>
<rect x="137.80" y="65.00" width="2.0" height="2.0" fill="#1f2c7a"/>
<text transform="translate(144.60 63.25) rotate(-90)" font-size="3.8" text-anchor="middle" fill="#222" font-family="Liberation Serif" font-weight="bold">2081.73</text>
<path d="M149.50 90.80 L149.50 84.60" fill="none" stroke="#999" stroke-width="0.35" />
<path d="M146.10 78.40 L147.70 81.50 L149.50 84.60" fill="none" stroke="#9c9c9c" stroke-width="0.35" />
<path d="M152.90 78.40 L151.30 81.50 L149.50 84.60" fill="none" stroke="#9c9c9c" stroke-width="0.35" />
<path d="M148.50 72.20 L147.46 75.80" fill="none" stroke="#c8c27a" stroke-width="0.5" />
<path d="M148.50 71.05L149.65 72.20L148.50 73.35L147.35 72.20Z" fill="#5b3b84"/>
<path d="M146.10 75.30 L146.10 78.40" fill="none" stroke="#c8c27a" stroke-width="0.4" />
<circle cx="146.10" cy="75.30" r="0.85" fill="#e9df55"/>
<path d="M152.90 75.30 L152.90 78.40" fill="none" stroke="#c8c27a" stroke-width="0.4" />
<circle cx="152.90" cy="75.30" r="0.85" fill="#e9df55"/>
<rect x="145.10" y="77.40" width="2.0" height="2.0" fill="#1f2c7a"/>
<rect x="151.90" y="77.40" width="2.0" height="2.0" fill="#1f2c7a"/>
<circle cx="147.70" cy="81.50" r="0.9" fill="#4fae5c"/>
<circle cx="151.30" cy="81.50" r="0.9" fill="#4fae5c"/>
<circle cx="149.50" cy="84.60" r="0.9" fill="#3c8f4c"/>
<rect x="148.50" y="86.70" width="2.0" height="2.0" fill="#1f2c7a"/>
<rect x="148.50" y="89.80" width="2.0" height="2.0" fill="#1f2c7a"/>
<path d="M151.10 90.80L153.10 89.80L153.10 91.80Z" fill="#cc1f2e"/>
<text transform="translate(151.20 102.00) rotate(-90)" font-size="3.8" text-anchor="middle" fill="#222" font-family="Liberation Serif" font-weight="bold">2243.78</text>
<path d="M158.00 79.60 L158.00 73.00" fill="none" stroke="#999" stroke-width="0.35" />
<path d="M156.40 66.40 L156.20 69.70 L158.00 73.00" fill="none" stroke="#9c9c9c" stroke-width="0.35" />
<path d="M159.60 66.40 L159.80 69.70 L158.00 73.00" fill="none" stroke="#9c9c9c" stroke-width="0.35" />
<path d="M152.50 59.80 L157.04 63.60" fill="none" stroke="#c8c27a" stroke-width="0.5" />
<path d="M152.50 58.65L153.65 59.80L152.50 60.95L151.35 59.80Z" fill="#5b3b84"/>
<path d="M163.50 59.80 L158.96 63.60" fill="none" stroke="#c8c27a" stroke-width="0.5" />
<path d="M163.50 58.65L164.65 59.80L163.50 60.95L162.35 59.80Z" fill="#5b3b84"/>
<path d="M156.40 63.10 L156.40 66.40" fill="none" stroke="#c8c27a" stroke-width="0.4" />
<circle cx="156.40" cy="63.10" r="0.85" fill="#e9df55"/>
<path d="M159.60 63.10 L159.60 66.40" fill="none" stroke="#c8c27a" stroke-width="0.4" />
<circle cx="159.60" cy="63.10" r="0.85" fill="#e9df55"/>
<rect x="155.40" y="65.40" width="2.0" height="2.0" fill="#1f2c7a"/>
<rect x="158.60" y="65.40" width="2.0" height="2.0" fill="#1f2c7a"/>
<circle cx="156.20" cy="69.70" r="0.9" fill="#4fae5c"/>
<circle cx="159.80" cy="69.70" r="0.9" fill="#4fae5c"/>
<circle cx="158.00" cy="73.00" r="0.9" fill="#3c8f4c"/>
<rect x="157.00" y="75.30" width="2.0" height="2.0" fill="#1f2c7a"/>
<rect x="157.00" y="78.60" width="2.0" height="2.0" fill="#1f2c7a"/>
<path d="M159.60 79.60L161.60 78.60L161.60 80.60Z" fill="#cc1f2e"/>
<text transform="translate(159.40 90.75) rotate(-90)" font-size="3.8" text-anchor="middle" fill="#222" font-family="Liberation Serif" font-weight="bold">2389.85</text>
<path d="M163.20 115.40 L163.20 108.80" fill="none" stroke="#999" stroke-width="0.35" />
<path d="M161.60 102.20 L161.40 105.50 L163.20 108.80" fill="none" stroke="#9c9c9c" stroke-width="0.35" />
<path d="M164.80 102.20 L165.00 105.50 L163.20 108.80" fill="none" stroke="#9c9c9c" stroke-width="0.35" />
<path d="M160.00 95.60 L162.24 99.40" fill="none" stroke="#c8c27a" stroke-width="0.5" />
<path d="M160.00 94.45L161.15 95.60L160.00 96.75L158.85 95.60Z" fill="#5b3b84"/>
<path d="M166.40 95.60 L164.16 99.40" fill="none" stroke="#c8c27a" stroke-width="0.5" />
<path d="M166.40 94.45L167.55 95.60L166.40 96.75L165.25 95.60Z" fill="#5b3b84"/>
<path d="M161.60 98.90 L161.60 102.20" fill="none" stroke="#c8c27a" stroke-width="0.4" />
<circle cx="161.60" cy="98.90" r="0.85" fill="#e9df55"/>
<path d="M164.80 98.90 L164.80 102.20" fill="none" stroke="#c8c27a" stroke-width="0.4" />
<circle cx="164.80" cy="98.90" r="0.85" fill="#e9df55"/>
<rect x="160.60" y="101.20" width="2.0" height="2.0" fill="#1f2c7a"/>
<rect x="163.80" y="101.20" width="2.0" height="2.0" fill="#1f2c7a"/>
<circle cx="161.40" cy="105.50" r="0.9" fill="#4fae5c"/>
<circle cx="165.00" cy="105.50" r="0.9" fill="#4fae5c"/>
<circle cx="163.20" cy="108.80" r="0.9" fill="#3c8f4c"/>
<rect x="162.20" y="111.10" width="2.0" height="2.0" fill="#1f2c7a"/>
<rect x="162.20" y="114.40" width="2.0" height="2.0" fill="#1f2c7a"/>
<path d="M164.80 115.40L166.80 114.40L166.80 116.40Z" fill="#cc1f2e"/>
<text transform="translate(164.40 125.00) rotate(-90)" font-size="3.8" text-anchor="middle" fill="#222" font-family="Liberation Serif" font-weight="bold">2336.84</text>
<path d="M170.50 68.20 L170.50 61.80" fill="none" stroke="#999" stroke-width="0.35" />
<path d="M167.40 55.40 L168.10 58.60 L170.50 61.80" fill="none" stroke="#9c9c9c" stroke-width="0.35" />
<path d="M170.50 55.40 L170.50 58.60 L170.50 61.80" fill="none" stroke="#9c9c9c" stroke-width="0.35" />
<path d="M173.60 55.40 L172.90 58.60 L170.50 61.80" fill="none" stroke="#9c9c9c" stroke-width="0.35" />
<path d="M170.51 49.00 L172.36 52.70" fill="none" stroke="#c8c27a" stroke-width="0.5" />
<path d="M170.51 47.85L171.66 49.00L170.51 50.15L169.36 49.00Z" fill="#5b3b84"/>
<path d="M167.40 52.20 L167.40 55.40" fill="none" stroke="#c8c27a" stroke-width="0.4" />
<circle cx="167.40" cy="52.20" r="0.85" fill="#e9df55"/>
<path d="M170.50 52.20 L170.50 55.40" fill="none" stroke="#c8c27a" stroke-width="0.4" />
<circle cx="170.50" cy="52.20" r="0.85" fill="#e9df55"/>
<path d="M173.60 52.20 L173.60 55.40" fill="none" stroke="#c8c27a" stroke-width="0.4" />
<circle cx="173.60" cy="52.20" r="0.85" fill="#e9df55"/>
<rect x="166.40" y="54.40" width="2.0" height="2.0" fill="#1f2c7a"/>
<rect x="169.50" y="54.40" width="2.0" height="2.0" fill="#1f2c7a"/>
<rect x="172.60" y="54.40" width="2.0" height="2.0" fill="#1f2c7a"/>
<circle cx="168.10" cy="58.60" r="0.9" fill="#4fae5c"/>
<circle cx="172.90" cy="58.60" r="0.9" fill="#4fae5c"/>
<circle cx="170.50" cy="61.80" r="0.9" fill="#3c8f4c"/>
<rect x="169.50" y="64.00" width="2.0" height="2.0" fill="#1f2c7a"/>
<rect x="169.50" y="67.20" width="2.0" height="2.0" fill="#1f2c7a"/>
<text transform="translate(171.90 78.40) rotate(-90)" font-size="3.8" text-anchor="middle" fill="#222" font-family="Liberation Serif" font-weight="bold">2434.87</text>
<path d="M181.00 82.40 L181.00 75.60" fill="none" stroke="#999" stroke-width="0.35" />
<path d="M177.90 68.80 L178.60 72.20 L181.00 75.60" fill="none" stroke="#9c9c9c" stroke-width="0.35" />
<path d="M181.00 68.80 L181.00 72.20 L181.00 75.60" fill="none" stroke="#9c9c9c" stroke-width="0.35" />
<path d="M184.10 68.80 L183.40 72.20 L181.00 75.60" fill="none" stroke="#9c9c9c" stroke-width="0.35" />
<path d="M174.70 62.00 L179.14 65.90" fill="none" stroke="#c8c27a" stroke-width="0.5" />
<path d="M174.70 60.85L175.85 62.00L174.70 63.15L173.55 62.00Z" fill="#5b3b84"/>
<path d="M187.30 62.00 L182.86 65.90" fill="none" stroke="#c8c27a" stroke-width="0.5" />
<path d="M187.30 60.85L188.45 62.00L187.30 63.15L186.15 62.00Z" fill="#5b3b84"/>
<path d="M177.90 65.40 L177.90 68.80" fill="none" stroke="#c8c27a" stroke-width="0.4" />
<circle cx="177.90" cy="65.40" r="0.85" fill="#e9df55"/>
<path d="M181.00 65.40 L181.00 68.80" fill="none" stroke="#c8c27a" stroke-width="0.4" />
<circle cx="181.00" cy="65.40" r="0.85" fill="#e9df55"/>
<path d="M184.10 65.40 L184.10 68.80" fill="none" stroke="#c8c27a" stroke-width="0.4" />
<circle cx="184.10" cy="65.40" r="0.85" fill="#e9df55"/>
<rect x="176.90" y="67.80" width="2.0" height="2.0" fill="#1f2c7a"/>
<rect x="180.00" y="67.80" width="2.0" height="2.0" fill="#1f2c7a"/>
<rect x="183.10" y="67.80" width="2.0" height="2.0" fill="#1f2c7a"/>
<circle cx="178.60" cy="72.20" r="0.9" fill="#4fae5c"/>
<circle cx="183.40" cy="72.20" r="0.9" fill="#4fae5c"/>
<circle cx="181.00" cy="75.60" r="0.9" fill="#3c8f4c"/>
<rect x="180.00" y="78.00" width="2.0" height="2.0" fill="#1f2c7a"/>
<rect x="180.00" y="81.40" width="2.0" height="2.0" fill="#1f2c7a"/>
<text transform="translate(181.90 92.00) rotate(-90)" font-size="3.8" text-anchor="middle" fill="#222" font-family="Liberation Serif" font-weight="bold">2539.90</text>
<path d="M176.00 130.40 L176.00 123.60" fill="none" stroke="#999" stroke-width="0.35" />
<path d="M172.90 116.80 L173.60 120.20 L176.00 123.60" fill="none" stroke="#9c9c9c" stroke-width="0.35" />
<path d="M176.00 116.80 L176.00 120.20 L176.00 123.60" fill="none" stroke="#9c9c9c" stroke-width="0.35" />
<path d="M179.10 116.80 L178.40 120.20 L176.00 123.60" fill="none" stroke="#9c9c9c" stroke-width="0.35" />
<path d="M182.30 110.00 L177.86 113.90" fill="none" stroke="#c8c27a" stroke-width="0.5" />
<path d="M182.30 108.85L183.45 110.00L182.30 111.15L181.15 110.00Z" fill="#5b3b84"/>
<path d="M172.90 113.40 L172.90 116.80" fill="none" stroke="#c8c27a" stroke-width="0.4" />
<circle cx="172.90" cy="113.40" r="0.85" fill="#e9df55"/>
<path d="M176.00 113.40 L176.00 116.80" fill="none" stroke="#c8c27a" stroke-width="0.4" />
<circle cx="176.00" cy="113.40" r="0.85" fill="#e9df55"/>
<path d="M179.10 113.40 L179.10 116.80" fill="none" stroke="#c8c27a" stroke-width="0.4" />
<circle cx="179.10" cy="113.40" r="0.85" fill="#e9df55"/>
<rect x="171.90" y="115.80" width="2.0" height="2.0" fill="#1f2c7a"/>
<rect x="175.00" y="115.80" width="2.0" height="2.0" fill="#1f2c7a"/>
<rect x="178.10" y="115.80" width="2.0" height="2.0" fill="#1f2c7a"/>
<circle cx="173.60" cy="120.20" r="0.9" fill="#4fae5c"/>
<circle cx="178.40" cy="120.20" r="0.9" fill="#4fae5c"/>
<circle cx="176.00" cy="123.60" r="0.9" fill="#3c8f4c"/>
<rect x="175.00" y="126.00" width="2.0" height="2.0" fill="#1f2c7a"/>
<rect x="175.00" y="129.40" width="2.0" height="2.0" fill="#1f2c7a"/>
<text transform="translate(176.40 140.00) rotate(-90)" font-size="3.8" text-anchor="middle" fill="#222" font-family="Liberation Serif" font-weight="bold">2580.93</text>
<path d="M187.20 131.10 L187.20 124.90" fill="none" stroke="#999" stroke-width="0.35" />
<path d="M184.10 118.70 L184.80 121.80 L187.20 124.90" fill="none" stroke="#9c9c9c" stroke-width="0.35" />
<path d="M187.20 118.70 L187.20 121.80 L187.20 124.90" fill="none" stroke="#9c9c9c" stroke-width="0.35" />
<path d="M190.30 118.70 L189.60 121.80 L187.20 124.90" fill="none" stroke="#9c9c9c" stroke-width="0.35" />
<path d="M182.70 112.50 L185.34 116.10" fill="none" stroke="#c8c27a" stroke-width="0.5" />
<path d="M182.70 111.35L183.85 112.50L182.70 113.65L181.55 112.50Z" fill="#5b3b84"/>
<path d="M191.70 112.50 L189.06 116.10" fill="none" stroke="#c8c27a" stroke-width="0.5" />
<path d="M191.70 111.35L192.85 112.50L191.70 113.65L190.55 112.50Z" fill="#5b3b84"/>
<path d="M184.10 115.60 L184.10 118.70" fill="none" stroke="#c8c27a" stroke-width="0.4" />
<circle cx="184.10" cy="115.60" r="0.85" fill="#e9df55"/>
<path d="M187.20 115.60 L187.20 118.70" fill="none" stroke="#c8c27a" stroke-width="0.4" />
<circle cx="187.20" cy="115.60" r="0.85" fill="#e9df55"/>
<path d="M190.30 115.60 L190.30 118.70" fill="none" stroke="#c8c27a" stroke-width="0.4" />
<circle cx="190.30" cy="115.60" r="0.85" fill="#e9df55"/>
<rect x="183.10" y="117.70" width="2.0" height="2.0" fill="#1f2c7a"/>
<rect x="186.20" y="117.70" width="2.0" height="2.0" fill="#1f2c7a"/>
<rect x="189.30" y="117.70" width="2.0" height="2.0" fill="#1f2c7a"/>
<circle cx="184.80" cy="121.80" r="0.9" fill="#4fae5c"/>
<circle cx="189.60" cy="121.80" r="0.9" fill="#4fae5c"/>
<circle cx="187.20" cy="124.90" r="0.9" fill="#3c8f4c"/>
<rect x="186.20" y="127.00" width="2.0" height="2.0" fill="#1f2c7a"/>
<rect x="186.20" y="130.10" width="2.0" height="2.0" fill="#1f2c7a"/>
<path d="M188.80 131.10L190.80 130.10L190.80 132.10Z" fill="#cc1f2e"/>
<text transform="translate(185.90 140.50) rotate(-90)" font-size="3.8" text-anchor="middle" fill="#222" font-family="Liberation Serif" font-weight="bold">2595.95</text>
<path d="M196.00 102.40 L196.00 95.40" fill="none" stroke="#999" stroke-width="0.35" />
<path d="M192.90 88.40 L193.60 91.90 L196.00 95.40" fill="none" stroke="#9c9c9c" stroke-width="0.35" />
<path d="M196.00 88.40 L196.00 91.90 L196.00 95.40" fill="none" stroke="#9c9c9c" stroke-width="0.35" />
<path d="M199.10 88.40 L198.40 91.90 L196.00 95.40" fill="none" stroke="#9c9c9c" stroke-width="0.35" />
<path d="M189.70 81.40 L194.14 85.40" fill="none" stroke="#c8c27a" stroke-width="0.5" />
<path d="M189.70 80.25L190.85 81.40L189.70 82.55L188.55 81.40Z" fill="#5b3b84"/>
<path d="M202.30 81.40 L197.86 85.40" fill="none" stroke="#c8c27a" stroke-width="0.5" />
<path d="M202.30 80.25L203.45 81.40L202.30 82.55L201.15 81.40Z" fill="#5b3b84"/>
<path d="M192.90 84.90 L192.90 88.40" fill="none" stroke="#c8c27a" stroke-width="0.4" />
<circle cx="192.90" cy="84.90" r="0.85" fill="#e9df55"/>
<path d="M196.00 84.90 L196.00 88.40" fill="none" stroke="#c8c27a" stroke-width="0.4" />
<circle cx="196.00" cy="84.90" r="0.85" fill="#e9df55"/>
<path d="M199.10 84.90 L199.10 88.40" fill="none" stroke="#c8c27a" stroke-width="0.4" />
<circle cx="199.10" cy="84.90" r="0.85" fill="#e9df55"/>
<rect x="191.90" y="87.40" width="2.0" height="2.0" fill="#1f2c7a"/>
<rect x="195.00" y="87.40" width="2.0" height="2.0" fill="#1f2c7a"/>
<rect x="198.10" y="87.40" width="2.0" height="2.0" fill="#1f2c7a"/>
<circle cx="193.60" cy="91.90" r="0.9" fill="#4fae5c"/>
<circle cx="198.40" cy="91.90" r="0.9" fill="#4fae5c"/>
<circle cx="196.00" cy="95.40" r="0.9" fill="#3c8f4c"/>
<rect x="195.00" y="97.90" width="2.0" height="2.0" fill="#1f2c7a"/>
<rect x="195.00" y="101.40" width="2.0" height="2.0" fill="#1f2c7a"/>
<text transform="translate(197.90 111.00) rotate(-90)" font-size="3.8" text-anchor="middle" fill="#222" font-family="Liberation Serif" font-weight="bold">2741.00</text>
<path d="M205.20 108.30 L205.20 102.10" fill="none" stroke="#999" stroke-width="0.35" />
<path d="M202.10 95.90 L202.80 99.00 L205.20 102.10" fill="none" stroke="#9c9c9c" stroke-width="0.35" />
<path d="M205.20 95.90 L205.20 99.00 L205.20 102.10" fill="none" stroke="#9c9c9c" stroke-width="0.35" />
<path d="M208.30 95.90 L207.60 99.00 L205.20 102.10" fill="none" stroke="#9c9c9c" stroke-width="0.35" />
<path d="M202.10 92.80 L202.10 95.90" fill="none" stroke="#c8c27a" stroke-width="0.4" />
<circle cx="202.10" cy="92.80" r="0.85" fill="#e9df55"/>
<path d="M205.20 92.80 L205.20 95.90" fill="none" stroke="#c8c27a" stroke-width="0.4" />
<circle cx="205.20" cy="92.80" r="0.85" fill="#e9df55"/>
<path d="M208.30 92.80 L208.30 95.90" fill="none" stroke="#c8c27a" stroke-width="0.4" />
<circle cx="208.30" cy="92.80" r="0.85" fill="#e9df55"/>
<rect x="201.10" y="94.90" width="2.0" height="2.0" fill="#1f2c7a"/>
<rect x="204.20" y="94.90" width="2.0" height="2.0" fill="#1f2c7a"/>
<rect x="207.30" y="94.90" width="2.0" height="2.0" fill="#1f2c7a"/>
<circle cx="202.80" cy="99.00" r="0.9" fill="#4fae5c"/>
<circle cx="207.60" cy="99.00" r="0.9" fill="#4fae5c"/>
<circle cx="205.20" cy="102.10" r="0.9" fill="#3c8f4c"/>
<rect x="204.20" y="104.20" width="2.0" height="2.0" fill="#1f2c7a"/>
<rect x="204.20" y="107.30" width="2.0" height="2.0" fill="#1f2c7a"/>
<path d="M206.80 108.30L208.80 107.30L208.80 109.30Z" fill="#cc1f2e"/>
<text transform="translate(206.60 121.00) rotate(-90)" font-size="3.8" text-anchor="middle" fill="#222" font-family="Liberation Serif" font-weight="bold">2685.98</text>
<path d="M211.70 80.60 L211.70 73.80" fill="none" stroke="#999" stroke-width="0.35" />
<path d="M208.60 67.00 L209.30 70.40 L211.70 73.80" fill="none" stroke="#9c9c9c" stroke-width="0.35" />
<path d="M211.70 67.00 L211.70 70.40 L211.70 73.80" fill="none" stroke="#9c9c9c" stroke-width="0.35" />
<path d="M214.80 67.00 L214.10 70.40 L211.70 73.80" fill="none" stroke="#9c9c9c" stroke-width="0.35" />
<path d="M205.40 60.20 L209.84 64.10" fill="none" stroke="#c8c27a" stroke-width="0.5" />
<path d="M205.40 59.05L206.55 60.20L205.40 61.35L204.25 60.20Z" fill="#5b3b84"/>
<path d="M208.50 60.20 L209.84 64.10" fill="none" stroke="#c8c27a" stroke-width="0.5" />
<path d="M208.50 59.05L209.65 60.20L208.50 61.35L207.35 60.20Z" fill="#5b3b84"/>
<path d="M218.00 60.20 L213.56 64.10" fill="none" stroke="#c8c27a" stroke-width="0.5" />
<path d="M218.00 59.05L219.15 60.20L218.00 61.35L216.85 60.20Z" fill="#5b3b84"/>
<path d="M208.60 63.60 L208.60 67.00" fill="none" stroke="#c8c27a" stroke-width="0.4" />
<circle cx="208.60" cy="63.60" r="0.85" fill="#e9df55"/>
<path d="M211.70 63.60 L211.70 67.00" fill="none" stroke="#c8c27a" stroke-width="0.4" />
<circle cx="211.70" cy="63.60" r="0.85" fill="#e9df55"/>
<path d="M214.80 63.60 L214.80 67.00" fill="none" stroke="#c8c27a" stroke-width="0.4" />
<circle cx="214.80" cy="63.60" r="0.85" fill="#e9df55"/>
<rect x="207.60" y="66.00" width="2.0" height="2.0" fill="#1f2c7a"/>
<rect x="210.70" y="66.00" width="2.0" height="2.0" fill="#1f2c7a"/>
<rect x="213.80" y="66.00" width="2.0" height="2.0" fill="#1f2c7a"/>
<circle cx="209.30" cy="70.40" r="0.9" fill="#4fae5c"/>
<circle cx="214.10" cy="70.40" r="0.9" fill="#4fae5c"/>
<circle cx="211.70" cy="73.80" r="0.9" fill="#3c8f4c"/>
<rect x="210.70" y="76.20" width="2.0" height="2.0" fill="#1f2c7a"/>
<rect x="210.70" y="79.60" width="2.0" height="2.0" fill="#1f2c7a"/>
<text transform="translate(213.80 90.00) rotate(-90)" font-size="3.8" text-anchor="middle" fill="#222" font-family="Liberation Serif" font-weight="bold">2904.06</text>
<path d="M223.10 92.82 L223.10 86.68" fill="none" stroke="#999" stroke-width="0.35" />
<path d="M220.00 80.54 L220.70 83.61 L223.10 86.68" fill="none" stroke="#9c9c9c" stroke-width="0.35" />
<path d="M223.10 80.54 L223.10 83.61 L223.10 86.68" fill="none" stroke="#9c9c9c" stroke-width="0.35" />
<path d="M226.20 80.54 L225.50 83.61 L223.10 86.68" fill="none" stroke="#9c9c9c" stroke-width="0.35" />
<path d="M216.80 74.40 L221.24 77.97" fill="none" stroke="#c8c27a" stroke-width="0.5" />
<path d="M216.80 73.25L217.95 74.40L216.80 75.55L215.65 74.40Z" fill="#5b3b84"/>
<path d="M219.90 74.40 L221.24 77.97" fill="none" stroke="#c8c27a" stroke-width="0.5" />
<path d="M219.90 73.25L221.05 74.40L219.90 75.55L218.75 74.40Z" fill="#5b3b84"/>
<path d="M229.40 74.40 L224.96 77.97" fill="none" stroke="#c8c27a" stroke-width="0.5" />
<path d="M229.40 73.25L230.55 74.40L229.40 75.55L228.25 74.40Z" fill="#5b3b84"/>
<path d="M220.00 77.47 L220.00 80.54" fill="none" stroke="#c8c27a" stroke-width="0.4" />
<circle cx="220.00" cy="77.47" r="0.85" fill="#e9df55"/>
<path d="M223.10 77.47 L223.10 80.54" fill="none" stroke="#c8c27a" stroke-width="0.4" />
<circle cx="223.10" cy="77.47" r="0.85" fill="#e9df55"/>
<path d="M226.20 77.47 L226.20 80.54" fill="none" stroke="#c8c27a" stroke-width="0.4" />
<circle cx="226.20" cy="77.47" r="0.85" fill="#e9df55"/>
<rect x="219.00" y="79.54" width="2.0" height="2.0" fill="#1f2c7a"/>
<rect x="222.10" y="79.54" width="2.0" height="2.0" fill="#1f2c7a"/>
<rect x="225.20" y="79.54" width="2.0" height="2.0" fill="#1f2c7a"/>
<circle cx="220.70" cy="83.61" r="0.9" fill="#4fae5c"/>
<circle cx="225.50" cy="83.61" r="0.9" fill="#4fae5c"/>
<circle cx="223.10" cy="86.68" r="0.9" fill="#3c8f4c"/>
<rect x="222.10" y="88.75" width="2.0" height="2.0" fill="#1f2c7a"/>
<rect x="222.10" y="91.82" width="2.0" height="2.0" fill="#1f2c7a"/>
<text transform="translate(224.50 104.50) rotate(-90)" font-size="3.8" text-anchor="middle" fill="#222" font-family="Liberation Serif" font-weight="bold">2887.06</text>
<path d="M234.50 95.10 L234.50 88.90" fill="none" stroke="#999" stroke-width="0.35" />
<path d="M231.40 82.70 L232.10 85.80 L234.50 88.90" fill="none" stroke="#9c9c9c" stroke-width="0.35" />
<path d="M234.50 82.70 L234.50 85.80 L234.50 88.90" fill="none" stroke="#9c9c9c" stroke-width="0.35" />
<path d="M237.60 82.70 L236.90 85.80 L234.50 88.90" fill="none" stroke="#9c9c9c" stroke-width="0.35" />
<path d="M228.20 76.50 L232.64 80.10" fill="none" stroke="#c8c27a" stroke-width="0.5" />
<path d="M228.20 75.35L229.35 76.50L228.20 77.65L227.05 76.50Z" fill="#5b3b84"/>
<path d="M231.30 76.50 L232.64 80.10" fill="none" stroke="#c8c27a" stroke-width="0.5" />
<path d="M231.30 75.35L232.45 76.50L231.30 77.65L230.15 76.50Z" fill="#5b3b84"/>
<path d="M240.80 76.50 L236.36 80.10" fill="none" stroke="#c8c27a" stroke-width="0.5" />
<path d="M240.80 75.35L241.95 76.50L240.80 77.65L239.65 76.50Z" fill="#5b3b84"/>
<path d="M231.40 79.60 L231.40 82.70" fill="none" stroke="#c8c27a" stroke-width="0.4" />
<circle cx="231.40" cy="79.60" r="0.85" fill="#e9df55"/>
<path d="M234.50 79.60 L234.50 82.70" fill="none" stroke="#c8c27a" stroke-width="0.4" />
<circle cx="234.50" cy="79.60" r="0.85" fill="#e9df55"/>
<path d="M237.60 79.60 L237.60 82.70" fill="none" stroke="#c8c27a" stroke-width="0.4" />
<circle cx="237.60" cy="79.60" r="0.85" fill="#e9df55"/>
<rect x="230.40" y="81.70" width="2.0" height="2.0" fill="#1f2c7a"/>
<rect x="233.50" y="81.70" width="2.0" height="2.0" fill="#1f2c7a"/>
<rect x="236.60" y="81.70" width="2.0" height="2.0" fill="#1f2c7a"/>
<circle cx="232.10" cy="85.80" r="0.9" fill="#4fae5c"/>
<circle cx="236.90" cy="85.80" r="0.9" fill="#4fae5c"/>
<circle cx="234.50" cy="88.90" r="0.9" fill="#3c8f4c"/>
<rect x="233.50" y="91.00" width="2.0" height="2.0" fill="#1f2c7a"/>
<rect x="233.50" y="94.10" width="2.0" height="2.0" fill="#1f2c7a"/>
<text transform="translate(236.10 105.75) rotate(-90)" font-size="3.8" text-anchor="middle" fill="#222" font-family="Liberation Serif" font-weight="bold">3033.10</text>
<path d="M242.60 82.00 L242.60 75.40" fill="none" stroke="#999" stroke-width="0.35" />
<path d="M239.50 68.80 L240.20 72.10 L242.60 75.40" fill="none" stroke="#9c9c9c" stroke-width="0.35" />
<path d="M242.60 68.80 L242.60 72.10 L242.60 75.40" fill="none" stroke="#9c9c9c" stroke-width="0.35" />
<path d="M245.70 68.80 L245.00 72.10 L242.60 75.40" fill="none" stroke="#9c9c9c" stroke-width="0.35" />
<path d="M236.30 62.20 L240.74 66.00" fill="none" stroke="#c8c27a" stroke-width="0.5" />
<path d="M236.30 61.05L237.45 62.20L236.30 63.35L235.15 62.20Z" fill="#5b3b84"/>
<path d="M248.90 62.20 L244.46 66.00" fill="none" stroke="#c8c27a" stroke-width="0.5" />
<path d="M248.90 61.05L250.05 62.20L248.90 63.35L247.75 62.20Z" fill="#5b3b84"/>
<path d="M239.50 65.50 L239.50 68.80" fill="none" stroke="#c8c27a" stroke-width="0.4" />
<circle cx="239.50" cy="65.50" r="0.85" fill="#e9df55"/>
<path d="M242.60 65.50 L242.60 68.80" fill="none" stroke="#c8c27a" stroke-width="0.4" />
<circle cx="242.60" cy="65.50" r="0.85" fill="#e9df55"/>
<path d="M245.70 65.50 L245.70 68.80" fill="none" stroke="#c8c27a" stroke-width="0.4" />
<circle cx="245.70" cy="65.50" r="0.85" fill="#e9df55"/>
<rect x="238.50" y="67.80" width="2.0" height="2.0" fill="#1f2c7a"/>
<rect x="241.60" y="67.80" width="2.0" height="2.0" fill="#1f2c7a"/>
<rect x="244.70" y="67.80" width="2.0" height="2.0" fill="#1f2c7a"/>
<circle cx="240.20" cy="72.10" r="0.9" fill="#4fae5c"/>
<circle cx="245.00" cy="72.10" r="0.9" fill="#4fae5c"/>
<circle cx="242.60" cy="75.40" r="0.9" fill="#3c8f4c"/>
<rect x="241.60" y="77.70" width="2.0" height="2.0" fill="#1f2c7a"/>
<rect x="241.60" y="81.00" width="2.0" height="2.0" fill="#1f2c7a"/>
<text transform="translate(244.30 92.85) rotate(-90)" font-size="3.8" text-anchor="middle" fill="#222" font-family="Liberation Serif" font-weight="bold">3107.13</text>
<path d="M253.00 103.00 L253.00 96.20" fill="none" stroke="#999" stroke-width="0.35" />
<path d="M249.90 89.40 L250.60 92.80 L253.00 96.20" fill="none" stroke="#9c9c9c" stroke-width="0.35" />
<path d="M253.00 89.40 L253.00 92.80 L253.00 96.20" fill="none" stroke="#9c9c9c" stroke-width="0.35" />
<path d="M256.10 89.40 L255.40 92.80 L253.00 96.20" fill="none" stroke="#9c9c9c" stroke-width="0.35" />
<path d="M246.70 82.60 L251.14 86.50" fill="none" stroke="#c8c27a" stroke-width="0.5" />
<path d="M246.70 81.45L247.85 82.60L246.70 83.75L245.55 82.60Z" fill="#5b3b84"/>
<path d="M249.80 82.60 L251.14 86.50" fill="none" stroke="#c8c27a" stroke-width="0.5" />
<path d="M249.80 81.45L250.95 82.60L249.80 83.75L248.65 82.60Z" fill="#5b3b84"/>
<path d="M259.30 82.60 L254.86 86.50" fill="none" stroke="#c8c27a" stroke-width="0.5" />
<path d="M259.30 81.45L260.45 82.60L259.30 83.75L258.15 82.60Z" fill="#5b3b84"/>
<path d="M249.90 86.00 L249.90 89.40" fill="none" stroke="#c8c27a" stroke-width="0.4" />
<circle cx="249.90" cy="86.00" r="0.85" fill="#e9df55"/>
<path d="M253.00 86.00 L253.00 89.40" fill="none" stroke="#c8c27a" stroke-width="0.4" />
<circle cx="253.00" cy="86.00" r="0.85" fill="#e9df55"/>
<path d="M256.10 86.00 L256.10 89.40" fill="none" stroke="#c8c27a" stroke-width="0.4" />
<circle cx="256.10" cy="86.00" r="0.85" fill="#e9df55"/>
<rect x="248.90" y="88.40" width="2.0" height="2.0" fill="#1f2c7a"/>
<rect x="252.00" y="88.40" width="2.0" height="2.0" fill="#1f2c7a"/>
<rect x="255.10" y="88.40" width="2.0" height="2.0" fill="#1f2c7a"/>
<circle cx="250.60" cy="92.80" r="0.9" fill="#4fae5c"/>
<circle cx="255.40" cy="92.80" r="0.9" fill="#4fae5c"/>
<circle cx="253.00" cy="96.20" r="0.9" fill="#3c8f4c"/>
<rect x="252.00" y="98.60" width="2.0" height="2.0" fill="#1f2c7a"/>
<rect x="252.00" y="102.00" width="2.0" height="2.0" fill="#1f2c7a"/>
<text transform="translate(254.40 111.00) rotate(-90)" font-size="3.8" text-anchor="middle" fill="#222" font-family="Liberation Serif" font-weight="bold">3195.16</text>
<path d="M269.60 76.80 L269.60 70.20" fill="none" stroke="#999" stroke-width="0.35" />
<path d="M266.50 63.60 L267.20 66.90 L269.60 70.20" fill="none" stroke="#9c9c9c" stroke-width="0.35" />
<path d="M269.60 63.60 L269.60 66.90 L269.60 70.20" fill="none" stroke="#9c9c9c" stroke-width="0.35" />
<path d="M272.70 63.60 L272.00 66.90 L269.60 70.20" fill="none" stroke="#9c9c9c" stroke-width="0.35" />
<path d="M263.30 57.00 L267.74 60.80" fill="none" stroke="#c8c27a" stroke-width="0.5" />
<path d="M263.30 55.85L264.45 57.00L263.30 58.15L262.15 57.00Z" fill="#5b3b84"/>
<path d="M266.40 57.00 L267.74 60.80" fill="none" stroke="#c8c27a" stroke-width="0.5" />
<path d="M266.40 55.85L267.55 57.00L266.40 58.15L265.25 57.00Z" fill="#5b3b84"/>
<path d="M275.90 57.00 L271.46 60.80" fill="none" stroke="#c8c27a" stroke-width="0.5" />
<path d="M275.90 55.85L277.05 57.00L275.90 58.15L274.75 57.00Z" fill="#5b3b84"/>
<path d="M266.50 60.30 L266.50 63.60" fill="none" stroke="#c8c27a" stroke-width="0.4" />
<circle cx="266.50" cy="60.30" r="0.85" fill="#e9df55"/>
<path d="M269.60 60.30 L269.60 63.60" fill="none" stroke="#c8c27a" stroke-width="0.4" />
<circle cx="269.60" cy="60.30" r="0.85" fill="#e9df55"/>
<path d="M272.70 60.30 L272.70 63.60" fill="none" stroke="#c8c27a" stroke-width="0.4" />
<circle cx="272.70" cy="60.30" r="0.85" fill="#e9df55"/>
<rect x="265.50" y="62.60" width="2.0" height="2.0" fill="#1f2c7a"/>
<rect x="268.60" y="62.60" width="2.0" height="2.0" fill="#1f2c7a"/>
<rect x="271.70" y="62.60" width="2.0" height="2.0" fill="#1f2c7a"/>
<circle cx="267.20" cy="66.90" r="0.9" fill="#4fae5c"/>
<circle cx="272.00" cy="66.90" r="0.9" fill="#4fae5c"/>
<circle cx="269.60" cy="70.20" r="0.9" fill="#3c8f4c"/>
<rect x="268.60" y="72.50" width="2.0" height="2.0" fill="#1f2c7a"/>
<rect x="268.60" y="75.80" width="2.0" height="2.0" fill="#1f2c7a"/>
<path d="M271.20 76.80L273.20 75.80L273.20 77.80Z" fill="#cc1f2e"/>
<text transform="translate(271.00 87.15) rotate(-90)" font-size="3.8" text-anchor="middle" fill="#222" font-family="Liberation Serif" font-weight="bold">3341.22</text>
<path d="M261.40 127.30 L261.40 120.70" fill="none" stroke="#999" stroke-width="0.35" />
<path d="M258.30 114.10 L259.00 117.40 L261.40 120.70" fill="none" stroke="#9c9c9c" stroke-width="0.35" />
<path d="M261.40 114.10 L261.40 117.40 L261.40 120.70" fill="none" stroke="#9c9c9c" stroke-width="0.35" />
<path d="M264.50 114.10 L263.80 117.40 L261.40 120.70" fill="none" stroke="#9c9c9c" stroke-width="0.35" />
<path d="M255.10 107.50 L259.54 111.30" fill="none" stroke="#c8c27a" stroke-width="0.5" />
<path d="M255.10 106.35L256.25 107.50L255.10 108.65L253.95 107.50Z" fill="#5b3b84"/>
<path d="M258.20 107.50 L259.54 111.30" fill="none" stroke="#c8c27a" stroke-width="0.5" />
<path d="M258.20 106.35L259.35 107.50L258.20 108.65L257.05 107.50Z" fill="#5b3b84"/>
<path d="M267.70 107.50 L263.26 111.30" fill="none" stroke="#c8c27a" stroke-width="0.5" />
<path d="M267.70 106.35L268.85 107.50L267.70 108.65L266.55 107.50Z" fill="#5b3b84"/>
<path d="M258.30 110.80 L258.30 114.10" fill="none" stroke="#c8c27a" stroke-width="0.4" />
<circle cx="258.30" cy="110.80" r="0.85" fill="#e9df55"/>
<path d="M261.40 110.80 L261.40 114.10" fill="none" stroke="#c8c27a" stroke-width="0.4" />
<circle cx="261.40" cy="110.80" r="0.85" fill="#e9df55"/>
<path d="M264.50 110.80 L264.50 114.10" fill="none" stroke="#c8c27a" stroke-width="0.4" />
<circle cx="264.50" cy="110.80" r="0.85" fill="#e9df55"/>
<rect x="257.30" y="113.10" width="2.0" height="2.0" fill="#1f2c7a"/>
<rect x="260.40" y="113.10" width="2.0" height="2.0" fill="#1f2c7a"/>
<rect x="263.50" y="113.10" width="2.0" height="2.0" fill="#1f2c7a"/>
<circle cx="259.00" cy="117.40" r="0.9" fill="#4fae5c"/>
<circle cx="263.80" cy="117.40" r="0.9" fill="#4fae5c"/>
<circle cx="261.40" cy="120.70" r="0.9" fill="#3c8f4c"/>
<rect x="260.40" y="123.00" width="2.0" height="2.0" fill="#1f2c7a"/>
<rect x="260.40" y="126.30" width="2.0" height="2.0" fill="#1f2c7a"/>
<path d="M263.00 127.30L265.00 126.30L265.00 128.30Z" fill="#cc1f2e"/>
<text transform="translate(263.00 138.00) rotate(-90)" font-size="3.8" text-anchor="middle" fill="#222" font-family="Liberation Serif" font-weight="bold">3398.24</text>
<path d="M277.60 118.00 L277.60 111.80" fill="none" stroke="#999" stroke-width="0.35" />
<path d="M272.90 105.60 L275.20 108.70 L277.60 111.80" fill="none" stroke="#9c9c9c" stroke-width="0.35" />
<path d="M276.05 105.60 L275.20 108.70 L277.60 111.80" fill="none" stroke="#9c9c9c" stroke-width="0.35" />
<path d="M279.15 105.60 L280.00 108.70 L277.60 111.80" fill="none" stroke="#9c9c9c" stroke-width="0.35" />
<path d="M282.30 105.60 L280.00 108.70 L277.60 111.80" fill="none" stroke="#9c9c9c" stroke-width="0.35" />
<path d="M269.70 99.40 L274.78 103.00" fill="none" stroke="#c8c27a" stroke-width="0.5" />
<path d="M269.70 98.25L270.85 99.40L269.70 100.55L268.55 99.40Z" fill="#5b3b84"/>
<path d="M272.80 99.40 L274.78 103.00" fill="none" stroke="#c8c27a" stroke-width="0.5" />
<path d="M272.80 98.25L273.95 99.40L272.80 100.55L271.65 99.40Z" fill="#5b3b84"/>
<path d="M285.50 99.40 L280.42 103.00" fill="none" stroke="#c8c27a" stroke-width="0.5" />
<path d="M285.50 98.25L286.65 99.40L285.50 100.55L284.35 99.40Z" fill="#5b3b84"/>
<path d="M272.90 102.50 L272.90 105.60" fill="none" stroke="#c8c27a" stroke-width="0.4" />
<circle cx="272.90" cy="102.50" r="0.85" fill="#e9df55"/>
<path d="M276.05 102.50 L276.05 105.60" fill="none" stroke="#c8c27a" stroke-width="0.4" />
<circle cx="276.05" cy="102.50" r="0.85" fill="#e9df55"/>
<path d="M279.15 102.50 L279.15 105.60" fill="none" stroke="#c8c27a" stroke-width="0.4" />
<circle cx="279.15" cy="102.50" r="0.85" fill="#e9df55"/>
<path d="M282.30 102.50 L282.30 105.60" fill="none" stroke="#c8c27a" stroke-width="0.4" />
<circle cx="282.30" cy="102.50" r="0.85" fill="#e9df55"/>
<rect x="271.90" y="104.60" width="2.0" height="2.0" fill="#1f2c7a"/>
<rect x="275.05" y="104.60" width="2.0" height="2.0" fill="#1f2c7a"/>
<rect x="278.15" y="104.60" width="2.0" height="2.0" fill="#1f2c7a"/>
<rect x="281.30" y="104.60" width="2.0" height="2.0" fill="#1f2c7a"/>
<circle cx="275.20" cy="108.70" r="0.9" fill="#4fae5c"/>
<circle cx="280.00" cy="108.70" r="0.9" fill="#4fae5c"/>
<circle cx="277.60" cy="111.80" r="0.9" fill="#3c8f4c"/>
<rect x="276.60" y="113.90" width="2.0" height="2.0" fill="#1f2c7a"/>
<rect x="276.60" y="117.00" width="2.0" height="2.0" fill="#1f2c7a"/>
<text transform="translate(279.00 129.25) rotate(-90)" font-size="3.8" text-anchor="middle" fill="#222" font-family="Liberation Serif" font-weight="bold">3487.27</text>
<path d="M298.00 104.40 L298.00 97.60" fill="none" stroke="#999" stroke-width="0.35" />
<path d="M293.30 90.80 L295.60 94.20 L298.00 97.60" fill="none" stroke="#9c9c9c" stroke-width="0.35" />
<path d="M296.45 90.80 L295.60 94.20 L298.00 97.60" fill="none" stroke="#9c9c9c" stroke-width="0.35" />
<path d="M299.55 90.80 L300.40 94.20 L298.00 97.60" fill="none" stroke="#9c9c9c" stroke-width="0.35" />
<path d="M302.70 90.80 L300.40 94.20 L298.00 97.60" fill="none" stroke="#9c9c9c" stroke-width="0.35" />
<path d="M290.10 84.00 L295.18 87.90" fill="none" stroke="#c8c27a" stroke-width="0.5" />
<path d="M290.10 82.85L291.25 84.00L290.10 85.15L288.95 84.00Z" fill="#5b3b84"/>
<path d="M293.20 84.00 L295.18 87.90" fill="none" stroke="#c8c27a" stroke-width="0.5" />
<path d="M293.20 82.85L294.35 84.00L293.20 85.15L292.05 84.00Z" fill="#5b3b84"/>
<path d="M296.30 84.00 L295.18 87.90" fill="none" stroke="#c8c27a" stroke-width="0.5" />
<path d="M296.30 82.85L297.45 84.00L296.30 85.15L295.15 84.00Z" fill="#5b3b84"/>
<path d="M305.90 84.00 L300.82 87.90" fill="none" stroke="#c8c27a" stroke-width="0.5" />
<path d="M305.90 82.85L307.05 84.00L305.90 85.15L304.75 84.00Z" fill="#5b3b84"/>
<path d="M293.30 87.40 L293.30 90.80" fill="none" stroke="#c8c27a" stroke-width="0.4" />
<circle cx="293.30" cy="87.40" r="0.85" fill="#e9df55"/>
<path d="M296.45 87.40 L296.45 90.80" fill="none" stroke="#c8c27a" stroke-width="0.4" />
<circle cx="296.45" cy="87.40" r="0.85" fill="#e9df55"/>
<path d="M299.55 87.40 L299.55 90.80" fill="none" stroke="#c8c27a" stroke-width="0.4" />
<circle cx="299.55" cy="87.40" r="0.85" fill="#e9df55"/>
<path d="M302.70 87.40 L302.70 90.80" fill="none" stroke="#c8c27a" stroke-width="0.4" />
<circle cx="302.70" cy="87.40" r="0.85" fill="#e9df55"/>
<rect x="292.30" y="89.80" width="2.0" height="2.0" fill="#1f2c7a"/>
<rect x="295.45" y="89.80" width="2.0" height="2.0" fill="#1f2c7a"/>
<rect x="298.55" y="89.80" width="2.0" height="2.0" fill="#1f2c7a"/>
<rect x="301.70" y="89.80" width="2.0" height="2.0" fill="#1f2c7a"/>
<circle cx="295.60" cy="94.20" r="0.9" fill="#4fae5c"/>
<circle cx="300.40" cy="94.20" r="0.9" fill="#4fae5c"/>
<circle cx="298.00" cy="97.60" r="0.9" fill="#3c8f4c"/>
<rect x="297.00" y="100.00" width="2.0" height="2.0" fill="#1f2c7a"/>
<rect x="297.00" y="103.40" width="2.0" height="2.0" fill="#1f2c7a"/>
<text transform="translate(299.90 118.75) rotate(-90)" font-size="3.8" text-anchor="middle" fill="#222" font-family="Liberation Serif" font-weight="bold">3560.29</text>
<path d="M290.40 149.70 L290.40 143.30" fill="none" stroke="#999" stroke-width="0.35" />
<path d="M285.70 136.90 L288.00 140.10 L290.40 143.30" fill="none" stroke="#9c9c9c" stroke-width="0.35" />
<path d="M288.85 136.90 L288.00 140.10 L290.40 143.30" fill="none" stroke="#9c9c9c" stroke-width="0.35" />
<path d="M291.95 136.90 L292.80 140.10 L290.40 143.30" fill="none" stroke="#9c9c9c" stroke-width="0.35" />
<path d="M295.10 136.90 L292.80 140.10 L290.40 143.30" fill="none" stroke="#9c9c9c" stroke-width="0.35" />
<path d="M282.50 130.50 L287.58 134.20" fill="none" stroke="#c8c27a" stroke-width="0.5" />
<path d="M282.50 129.35L283.65 130.50L282.50 131.65L281.35 130.50Z" fill="#5b3b84"/>
<path d="M285.60 130.50 L287.58 134.20" fill="none" stroke="#c8c27a" stroke-width="0.5" />
<path d="M285.60 129.35L286.75 130.50L285.60 131.65L284.45 130.50Z" fill="#5b3b84"/>
<path d="M298.30 130.50 L293.22 134.20" fill="none" stroke="#c8c27a" stroke-width="0.5" />
<path d="M298.30 129.35L299.45 130.50L298.30 131.65L297.15 130.50Z" fill="#5b3b84"/>
<path d="M285.70 133.70 L285.70 136.90" fill="none" stroke="#c8c27a" stroke-width="0.4" />
<circle cx="285.70" cy="133.70" r="0.85" fill="#e9df55"/>
<path d="M288.85 133.70 L288.85 136.90" fill="none" stroke="#c8c27a" stroke-width="0.4" />
<circle cx="288.85" cy="133.70" r="0.85" fill="#e9df55"/>
<path d="M291.95 133.70 L291.95 136.90" fill="none" stroke="#c8c27a" stroke-width="0.4" />
<circle cx="291.95" cy="133.70" r="0.85" fill="#e9df55"/>
<path d="M295.10 133.70 L295.10 136.90" fill="none" stroke="#c8c27a" stroke-width="0.4" />
<circle cx="295.10" cy="133.70" r="0.85" fill="#e9df55"/>
<rect x="284.70" y="135.90" width="2.0" height="2.0" fill="#1f2c7a"/>
<rect x="287.85" y="135.90" width="2.0" height="2.0" fill="#1f2c7a"/>
<rect x="290.95" y="135.90" width="2.0" height="2.0" fill="#1f2c7a"/>
<rect x="294.10" y="135.90" width="2.0" height="2.0" fill="#1f2c7a"/>
<circle cx="288.00" cy="140.10" r="0.9" fill="#4fae5c"/>
<circle cx="292.80" cy="140.10" r="0.9" fill="#4fae5c"/>
<circle cx="290.40" cy="143.30" r="0.9" fill="#3c8f4c"/>
<rect x="289.40" y="145.50" width="2.0" height="2.0" fill="#1f2c7a"/>
<rect x="289.40" y="148.70" width="2.0" height="2.0" fill="#1f2c7a"/>
<text transform="translate(288.90 155.75) rotate(-90)" font-size="3.8" text-anchor="middle" fill="#222" font-family="Liberation Serif" font-weight="bold">3179.14</text>
<path d="M310.00 150.40 L310.00 143.60" fill="none" stroke="#999" stroke-width="0.35" />
<path d="M305.30 136.80 L307.60 140.20 L310.00 143.60" fill="none" stroke="#9c9c9c" stroke-width="0.35" />
<path d="M308.45 136.80 L307.60 140.20 L310.00 143.60" fill="none" stroke="#9c9c9c" stroke-width="0.35" />
<path d="M311.55 136.80 L312.40 140.20 L310.00 143.60" fill="none" stroke="#9c9c9c" stroke-width="0.35" />
<path d="M314.70 136.80 L312.40 140.20 L310.00 143.60" fill="none" stroke="#9c9c9c" stroke-width="0.35" />
<path d="M302.10 130.00 L307.18 133.90" fill="none" stroke="#c8c27a" stroke-width="0.5" />
<path d="M302.10 128.85L303.25 130.00L302.10 131.15L300.95 130.00Z" fill="#5b3b84"/>
<path d="M305.20 130.00 L307.18 133.90" fill="none" stroke="#c8c27a" stroke-width="0.5" />
<path d="M305.20 128.85L306.35 130.00L305.20 131.15L304.05 130.00Z" fill="#5b3b84"/>
<path d="M308.30 130.00 L307.18 133.90" fill="none" stroke="#c8c27a" stroke-width="0.5" />
<path d="M308.30 128.85L309.45 130.00L308.30 131.15L307.15 130.00Z" fill="#5b3b84"/>
<path d="M317.90 130.00 L312.82 133.90" fill="none" stroke="#c8c27a" stroke-width="0.5" />
<path d="M317.90 128.85L319.05 130.00L317.90 131.15L316.75 130.00Z" fill="#5b3b84"/>
<path d="M305.30 133.40 L305.30 136.80" fill="none" stroke="#c8c27a" stroke-width="0.4" />
<circle cx="305.30" cy="133.40" r="0.85" fill="#e9df55"/>
<path d="M308.45 133.40 L308.45 136.80" fill="none" stroke="#c8c27a" stroke-width="0.4" />
<circle cx="308.45" cy="133.40" r="0.85" fill="#e9df55"/>
<path d="M311.55 133.40 L311.55 136.80" fill="none" stroke="#c8c27a" stroke-width="0.4" />
<circle cx="311.55" cy="133.40" r="0.85" fill="#e9df55"/>
<path d="M314.70 133.40 L314.70 136.80" fill="none" stroke="#c8c27a" stroke-width="0.4" />
<circle cx="314.70" cy="133.40" r="0.85" fill="#e9df55"/>
<rect x="304.30" y="135.80" width="2.0" height="2.0" fill="#1f2c7a"/>
<rect x="307.45" y="135.80" width="2.0" height="2.0" fill="#1f2c7a"/>
<rect x="310.55" y="135.80" width="2.0" height="2.0" fill="#1f2c7a"/>
<rect x="313.70" y="135.80" width="2.0" height="2.0" fill="#1f2c7a"/>
<circle cx="307.60" cy="140.20" r="0.9" fill="#4fae5c"/>
<circle cx="312.40" cy="140.20" r="0.9" fill="#4fae5c"/>
<circle cx="310.00" cy="143.60" r="0.9" fill="#3c8f4c"/>
<rect x="309.00" y="146.00" width="2.0" height="2.0" fill="#1f2c7a"/>
<rect x="309.00" y="149.40" width="2.0" height="2.0" fill="#1f2c7a"/>
<text transform="translate(304.40 144.00) rotate(-90)" font-size="3.8" text-anchor="middle" fill="#222" font-family="Liberation Serif" font-weight="bold">3633.32</text>
<path d="M94.00 132.50 L94.00 125.90" fill="none" stroke="#999" stroke-width="0.35" />
<path d="M92.40 119.30 L92.20 122.60 L94.00 125.90" fill="none" stroke="#9c9c9c" stroke-width="0.35" />
<path d="M95.60 119.30 L95.80 122.60 L94.00 125.90" fill="none" stroke="#9c9c9c" stroke-width="0.35" />
<path d="M92.40 116.00 L92.40 119.30" fill="none" stroke="#c8c27a" stroke-width="0.4" />
<circle cx="92.40" cy="116.00" r="0.85" fill="#e9df55"/>
<path d="M95.60 116.00 L95.60 119.30" fill="none" stroke="#c8c27a" stroke-width="0.4" />
<circle cx="95.60" cy="116.00" r="0.85" fill="#e9df55"/>
<rect x="91.40" y="118.30" width="2.0" height="2.0" fill="#1f2c7a"/>
<rect x="94.60" y="118.30" width="2.0" height="2.0" fill="#1f2c7a"/>
<circle cx="92.20" cy="122.60" r="0.9" fill="#4fae5c"/>
<circle cx="95.80" cy="122.60" r="0.9" fill="#4fae5c"/>
<circle cx="94.00" cy="125.90" r="0.9" fill="#3c8f4c"/>
<rect x="93.00" y="128.20" width="2.0" height="2.0" fill="#1f2c7a"/>
<rect x="93.00" y="131.50" width="2.0" height="2.0" fill="#1f2c7a"/>
<text transform="translate(95.40 145.50) rotate(-90)" font-size="3.8" text-anchor="middle" fill="#222" font-family="Liberation Serif" font-weight="bold">1890.66</text>
<path d="M120.20 144.50 L120.20 138.70" fill="none" stroke="#999" stroke-width="0.35" />
<path d="M116.80 132.90 L118.40 135.80 L120.20 138.70" fill="none" stroke="#9c9c9c" stroke-width="0.35" />
<path d="M123.60 132.90 L122.00 135.80 L120.20 138.70" fill="none" stroke="#9c9c9c" stroke-width="0.35" />
<path d="M116.80 130.00 L116.80 132.90" fill="none" stroke="#c8c27a" stroke-width="0.4" />
<circle cx="116.80" cy="130.00" r="0.85" fill="#e9df55"/>
<path d="M123.60 130.00 L123.60 132.90" fill="none" stroke="#c8c27a" stroke-width="0.4" />
<circle cx="123.60" cy="130.00" r="0.85" fill="#e9df55"/>
<rect x="115.80" y="131.90" width="2.0" height="2.0" fill="#1f2c7a"/>
<rect x="122.60" y="131.90" width="2.0" height="2.0" fill="#1f2c7a"/>
<circle cx="118.40" cy="135.80" r="0.9" fill="#4fae5c"/>
<circle cx="122.00" cy="135.80" r="0.9" fill="#4fae5c"/>
<rect x="119.30" y="134.90" width="1.8" height="1.8" fill="#1f2c7a"/>
<circle cx="120.20" cy="138.70" r="0.9" fill="#3c8f4c"/>
<rect x="119.20" y="140.60" width="2.0" height="2.0" fill="#1f2c7a"/>
<rect x="119.20" y="143.50" width="2.0" height="2.0" fill="#1f2c7a"/>
<path d="M121.80 144.50L123.80 143.50L123.80 145.50Z" fill="#cc1f2e"/>
<text transform="translate(118.10 162.00) rotate(-90)" font-size="3.8" text-anchor="middle" fill="#222" font-family="Liberation Serif" font-weight="bold">2077.73</text>
<text transform="translate(135.40 169.50) rotate(-90)" font-size="3.8" text-anchor="middle" fill="#222" font-family="Liberation Serif" font-weight="bold">2117.76</text>
<text transform="translate(141.70 154.00) rotate(-90)" font-size="3.8" text-anchor="middle" fill="#222" font-family="Liberation Serif" font-weight="bold">2109.74</text>
<path d="M137.30 137.20 L140.50 140.50 L143.70 137.20" fill="none" stroke="#8a8a8a" stroke-width="0.5" />
<path d="M140.50 140.50 L140.50 142.00" fill="none" stroke="#8a8a8a" stroke-width="0.5" />
<circle cx="137.30" cy="137.20" r="0.6" fill="#b8d060"/>
<circle cx="143.70" cy="137.20" r="0.6" fill="#b8d060"/>
<text x="4.6" y="208.4" font-size="7.2" text-anchor="start" fill="#000" font-family="Liberation Sans" font-weight="bold" >B</text>
<text x="80.8" y="217.2" font-size="5.2" text-anchor="middle" fill="#000" font-family="Liberation Serif" font-weight="bold" >Directly detected N-glycan traits</text>
<text x="275.2" y="217.4" font-size="5.3" text-anchor="middle" fill="#000" font-family="Liberation Serif" font-weight="bold" >Derived N-glycan traits</text>
<text x="179.2" y="213.3" font-size="3.8" text-anchor="middle" fill="#d42a2a" font-family="Liberation Serif" font-weight="bold" >Formulas</text>
<path d="M120 215.6H243" stroke="#1a1a1a" stroke-width="1.4"/>
<path d="M240.5 213.2L246 215.6L240.5 218Z" fill="#1a1a1a"/>
<path d="M16 235.5V231.5Q16 229.6 18 229.6H76.5Q78.6 229.6 78.6 227V223.5Q78.6 227 80.6 229.6H140Q142 229.6 142 231.5V235.5" fill="none" stroke="#3464a8" stroke-width="1.0"/>
<path d="M236.5 235.5V229.5Q236.5 227.2 239 227.2H271.5Q273.5 227.2 273.5 224V220.8Q273.5 224 275.5 227.2H308.5Q311 227.2 311 229.5V235.5" fill="none" stroke="#3464a8" stroke-width="1.0"/>
<rect x="1.3" y="289" width="37.7" height="71.80000000000001" fill="url(#og)" stroke="#e8a070" stroke-width="0.5"/>
<rect x="61" y="288.3" width="35" height="72.5" fill="url(#og)" stroke="#e8a070" stroke-width="0.5"/>
<rect x="104" y="272.5" width="70" height="88.5" fill="url(#og3)" stroke="#e8a070" stroke-width="0.5"/>
<path d="M19.4 240.8V289" stroke="#b4c1dc" stroke-width="0.9"/>
<path d="M79 249.3V288.3" stroke="#b4c1dc" stroke-width="0.9"/>
<path d="M113 257.3V272.5" stroke="#b4c1dc" stroke-width="0.9"/>
<path d="M140 263.5V270.5" stroke="#b4c1dc" stroke-width="0.9"/>
<path d="M144.5 270V272.5" stroke="#b4c1dc" stroke-width="0.9"/>
<path d="M19.4 240.8 L231.2 240.8" fill="none" stroke="#5f77a8" stroke-width="0.7" stroke-dasharray="2.2 0.8" marker-end="url(#ar)"/>
<path d="M79 249.3 L231.2 249.3" fill="none" stroke="#5f77a8" stroke-width="0.7" stroke-dasharray="2.2 0.8" marker-end="url(#ar)"/>
<path d="M113 257.3 L231.2 257.3" fill="none" stroke="#5f77a8" stroke-width="0.7" stroke-dasharray="2.2 0.8" marker-end="url(#ar)"/>
<path d="M140 263.5 L231.2 263.5" fill="none" stroke="#5f77a8" stroke-width="0.7" stroke-dasharray="2.2 0.8" marker-end="url(#ar)"/>
<path d="M144.5 270 L231.2 270" fill="none" stroke="#5f77a8" stroke-width="0.7" stroke-dasharray="2.2 0.8" marker-end="url(#ar)"/>
<path d="M152.5 280 L152.5 277.3 L174 277.3" fill="none" stroke="#9890a8" stroke-width="0.6"/>
<path d="M174 277.3 L231.2 277.3" fill="none" stroke="#5f77a8" stroke-width="0.7" stroke-dasharray="2.2 0.8" marker-end="url(#ar)"/>
<path d="M162.5 284.3 L174 284.3" fill="none" stroke="#9890a8" stroke-width="0.6"/>
<path d="M174 284.3 L231.2 284.3" fill="none" stroke="#5f77a8" stroke-width="0.7" stroke-dasharray="2.2 0.8" marker-end="url(#ar)"/>
<path d="M156 292 L164 291.2 L174 291.2" fill="none" stroke="#9890a8" stroke-width="0.6"/>
<path d="M174 291.2 L231.2 291.2" fill="none" stroke="#5f77a8" stroke-width="0.7" stroke-dasharray="2.2 0.8" marker-end="url(#ar)"/>
<path d="M154.5 296 L166 298.4 L174 298.4" fill="none" stroke="#9890a8" stroke-width="0.6"/>
<path d="M174 298.4 L231.2 298.4" fill="none" stroke="#5f77a8" stroke-width="0.7" stroke-dasharray="2.2 0.8" marker-end="url(#ar)"/>
<path d="M116 304.8 L174 304.8" fill="none" stroke="#9890a8" stroke-width="0.6"/>
<path d="M174 304.8 L231.2 304.8" fill="none" stroke="#5f77a8" stroke-width="0.7" stroke-dasharray="2.2 0.8" marker-end="url(#ar)"/>
<path d="M139 312.5 L174 312.5" fill="none" stroke="#9890a8" stroke-width="0.6"/>
<path d="M174 312.5 L231.2 312.5" fill="none" stroke="#5f77a8" stroke-width="0.7" stroke-dasharray="2.2 0.8" marker-end="url(#ar)"/>
<path d="M151 341.2 L174 341.2" fill="none" stroke="#9890a8" stroke-width="0.6"/>
<path d="M174 341.2 L231.2 341.2" fill="none" stroke="#5f77a8" stroke-width="0.7" stroke-dasharray="2.2 0.8" marker-end="url(#ar)"/>
<text x="236" y="244.6" font-size="5.2" font-weight="bold" fill="#000">High mannose type N-glycans <tspan fill="#c0282d">(M)</tspan></text>
<text x="236" y="252.79999999999998" font-size="5.2" font-weight="bold" fill="#000">Hybrid type N-glycans <tspan fill="#c0282d">(Hy)</tspan></text>
<text x="236" y="260.59999999999997" font-size="5.2" font-weight="bold" fill="#000">Complex type N-glycans <tspan fill="#c0282d">(C)</tspan></text>
<text x="236" y="266.7" font-size="5.2" font-weight="bold" fill="#000">Tetra-antennary <tspan fill="#c0282d">(A4)</tspan></text>
<text x="236" y="272.09999999999997" font-size="5.2" font-weight="bold" fill="#000">Triantennary <tspan fill="#c0282d">(A3)</tspan></text>
<text x="236" y="279.0" font-size="5.2" font-weight="bold" fill="#000">Diantennary <tspan fill="#c0282d">(A2)</tspan></text>
<text x="236" y="286.7" font-size="5.2" font-weight="bold" fill="#000">α2,3- sialylation <tspan fill="#c0282d">(L)</tspan></text>
<text x="236" y="293.7" font-size="5.2" font-weight="bold" fill="#000">α2,6- sialylation <tspan fill="#c0282d">(E)</tspan></text>
<text x="236" y="300.9" font-size="5.2" font-weight="bold" fill="#000">Galactosylation <tspan fill="#c0282d">(G)</tspan></text>
<text x="236" y="307.3" font-size="5.2" font-weight="bold" fill="#000">Antenna fucosylation <tspan fill="#c0282d">(Fa)</tspan></text>
<text x="236" y="314.9" font-size="5.2" font-weight="bold" fill="#000">Bisection <tspan fill="#c0282d">(B)</tspan></text>
<text x="236" y="343.9" font-size="5.2" font-weight="bold" fill="#000">Core-fucosylation <tspan fill="#c0282d">(F)</tspan></text>
<path d="M28 299.5 L28 308 L24 316.8 L17.5 325 L17.5 347.5" fill="none" stroke="#777" stroke-width="0.5"/>
<path d="M11.5 308 L11.5 316.8 L17.5 325" fill="none" stroke="#777" stroke-width="0.5"/>
<path d="M19.5 308 L24 316.8" fill="none" stroke="#777" stroke-width="0.5"/>
<path d="M15.5 347.5 L19.5 347.5" fill="none" stroke="#777" stroke-width="0.5"/>
<circle cx="28" cy="299.5" r="2.9" fill="#35a647" stroke="#4a5a3a" stroke-width="0.35"/>
<circle cx="11.5" cy="308" r="2.9" fill="#35a647" stroke="#4a5a3a" stroke-width="0.35"/>
<circle cx="19.5" cy="308" r="2.9" fill="#35a647" stroke="#4a5a3a" stroke-width="0.35"/>
<circle cx="28" cy="308" r="2.9" fill="#35a647" stroke="#4a5a3a" stroke-width="0.35"/>
<circle cx="11.5" cy="316.8" r="2.9" fill="#35a647" stroke="#4a5a3a" stroke-width="0.35"/>
<circle cx="24" cy="316.8" r="2.9" fill="#35a647" stroke="#4a5a3a" stroke-width="0.35"/>
<circle cx="17.5" cy="325" r="2.9" fill="#35a647" stroke="#4a5a3a" stroke-width="0.35"/>
<rect x="14.55" y="330.05" width="5.9" height="5.9" fill="#2b469a" stroke="#1c2a5a" stroke-width="0.35"/>
<rect x="14.55" y="338.05" width="5.9" height="5.9" fill="#2b469a" stroke="#1c2a5a" stroke-width="0.35"/>
<path d="M72 299 L72 317 L77 325 L77 347" fill="none" stroke="#777" stroke-width="0.5"/>
<path d="M81 307.5 L81 317 L77 325" fill="none" stroke="#777" stroke-width="0.5"/>
<path d="M77 341 L85 341" fill="none" stroke="#777" stroke-width="0.5"/>
<path d="M75 347.5 L79 347.5" fill="none" stroke="#777" stroke-width="0.5"/>
<circle cx="72" cy="299" r="2.9" fill="#f3e61f" stroke="#4a5a3a" stroke-width="0.35"/>
<rect x="69.05" y="304.55" width="5.9" height="5.9" fill="#2b469a" stroke="#1c2a5a" stroke-width="0.35"/>
<circle cx="81" cy="307.5" r="2.9" fill="#35a647" stroke="#4a5a3a" stroke-width="0.35"/>
<circle cx="72" cy="317" r="2.9" fill="#35a647" stroke="#4a5a3a" stroke-width="0.35"/>
<circle cx="81" cy="317" r="2.9" fill="#35a647" stroke="#4a5a3a" stroke-width="0.35"/>
<circle cx="77" cy="325" r="2.9" fill="#35a647" stroke="#4a5a3a" stroke-width="0.35"/>
<rect x="74.05" y="330.05" width="5.9" height="5.9" fill="#2b469a" stroke="#1c2a5a" stroke-width="0.35"/>
<rect x="74.05" y="338.05" width="5.9" height="5.9" fill="#2b469a" stroke="#1c2a5a" stroke-width="0.35"/>
<path d="M82.5 341L88.5 338.0L88.5 344.0Z" fill="#c0202c"/>
<path d="M124 294 L124 303" fill="none" stroke="#777" stroke-width="0.5"/>
<path d="M134 294 L134 303" fill="none" stroke="#777" stroke-width="0.5"/>
<path d="M143.5 294 L143.5 303" fill="none" stroke="#777" stroke-width="0.5"/>
<path d="M152.8 294 L152.8 303" fill="none" stroke="#777" stroke-width="0.5"/>
<path d="M124 303 L129.5 312.5 L139 322.5" fill="none" stroke="#777" stroke-width="0.5"/>
<path d="M134 303 L129.5 312.5" fill="none" stroke="#777" stroke-width="0.5"/>
<path d="M143.5 303 L149 312.5 L139 322.5" fill="none" stroke="#777" stroke-width="0.5"/>
<path d="M152.8 303 L149 312.5" fill="none" stroke="#777" stroke-width="0.5"/>
<path d="M139 312.5 L139 350" fill="none" stroke="#777" stroke-width="0.5"/>
<path d="M137 350 L141 350" fill="none" stroke="#777" stroke-width="0.5"/>
<path d="M115.3 284.5 L124 294" fill="none" stroke="#777" stroke-width="0.5"/>
<path d="M124 284.5 L124 294" fill="none" stroke="#777" stroke-width="0.5"/>
<path d="M162.7 284.5 L152.8 294" fill="none" stroke="#777" stroke-width="0.5"/>
<path d="M114 303 L124 303" fill="none" stroke="#777" stroke-width="0.5"/>
<path d="M139 341 L149 341" fill="none" stroke="#777" stroke-width="0.5"/>
<path d="M124 284V266.2H154.2V292" fill="none" stroke="#2d2d2d" stroke-width="1.1"/>
<path d="M133.8 292V275.6H152V292" fill="none" stroke="#2d2d2d" stroke-width="1.1"/>
<path d="M135.4 292V282.4H144.4V292" fill="none" stroke="#2d2d2d" stroke-width="1.1"/>
<path d="M115.3 281.7L118.1 284.5L115.3 287.3L112.5 284.5Z" fill="#7b3590"/>
<path d="M124 281.7L126.8 284.5L124 287.3L121.2 284.5Z" fill="#7b3590"/>
<path d="M162.7 281.7L165.5 284.5L162.7 287.3L159.89999999999998 284.5Z" fill="#7b3590"/>
<circle cx="124" cy="294" r="2.9" fill="#f3e61f" stroke="#4a5a3a" stroke-width="0.35"/>
<circle cx="134" cy="294" r="2.9" fill="#f3e61f" stroke="#4a5a3a" stroke-width="0.35"/>
<circle cx="143.5" cy="294" r="2.9" fill="#f3e61f" stroke="#4a5a3a" stroke-width="0.35"/>
<circle cx="152.8" cy="294" r="2.9" fill="#f3e61f" stroke="#4a5a3a" stroke-width="0.35"/>
<rect x="121.05" y="300.05" width="5.9" height="5.9" fill="#2b469a" stroke="#1c2a5a" stroke-width="0.35"/>
<rect x="131.05" y="300.05" width="5.9" height="5.9" fill="#2b469a" stroke="#1c2a5a" stroke-width="0.35"/>
<rect x="140.55" y="300.05" width="5.9" height="5.9" fill="#2b469a" stroke="#1c2a5a" stroke-width="0.35"/>
<rect x="149.85000000000002" y="300.05" width="5.9" height="5.9" fill="#2b469a" stroke="#1c2a5a" stroke-width="0.35"/>
<path d="M117.0 303L111.0 300.0L111.0 306.0Z" fill="#c0202c"/>
<circle cx="129.5" cy="312.5" r="2.9" fill="#35a647" stroke="#4a5a3a" stroke-width="0.35"/>
<rect x="136.05" y="309.55" width="5.9" height="5.9" fill="#2b469a" stroke="#1c2a5a" stroke-width="0.35"/>
<circle cx="149" cy="312.5" r="2.9" fill="#35a647" stroke="#4a5a3a" stroke-width="0.35"/>
<circle cx="139" cy="322.5" r="2.9" fill="#35a647" stroke="#4a5a3a" stroke-width="0.35"/>
<rect x="136.05" y="329.05" width="5.9" height="5.9" fill="#2b469a" stroke="#1c2a5a" stroke-width="0.35"/>
<rect x="136.05" y="338.05" width="5.9" height="5.9" fill="#2b469a" stroke="#1c2a5a" stroke-width="0.35"/>
<path d="M146.5 341L152.5 338.0L152.5 344.0Z" fill="#c0202c"/>
<path d="M20 361V369.5H139.3V361" fill="none" stroke="#1c1c1c" stroke-width="1.3" stroke-dasharray="1.2 0.75"/>
<path d="M78.6 360.8V387.3" fill="none" stroke="#1c1c1c" stroke-width="1.3" stroke-dasharray="1.2 0.75"/>
<path d="M26.3 391.8H131" stroke="#3a3a3a" stroke-width="0.9"/>
<rect x="39.6" y="387.3" width="17.4" height="10.6" rx="2.2" fill="url(#bg)" stroke="#4f6790" stroke-width="0.8"/>
<rect x="71.3" y="387.3" width="15.700000000000003" height="10.6" rx="2.2" fill="url(#bg)" stroke="#4f6790" stroke-width="0.8"/>
<rect x="100.6" y="387.3" width="17.0" height="10.6" rx="2.2" fill="url(#bg)" stroke="#4f6790" stroke-width="0.8"/>
<rect x="131.2" y="387.3" width="17.600000000000023" height="10.6" rx="2.2" fill="url(#bg)" stroke="#4f6790" stroke-width="0.8"/>
<text x="79.1" y="394.0" font-size="4.4" text-anchor="middle" fill="#111a2a" font-family="Liberation Serif" font-weight="bold" >Asn</text>
<text x="109.2" y="394.2" font-size="4.8" text-anchor="middle" fill="#111a2a" font-family="Liberation Serif" font-weight="bold" >X</text>
<text x="140.2" y="391.2" font-size="4.3" text-anchor="middle" fill="#111a2a" font-family="Liberation Serif" font-weight="bold" >Ser/</text>
<text x="140.2" y="396.9" font-size="4.3" text-anchor="middle" fill="#111a2a" font-family="Liberation Serif" font-weight="bold" >Thr</text>
<path d="M82.6 375.2L91.6 380.4L90.8 381.4Z" fill="#111"/>
<path d="M82.6 383.8L91.6 378.6L90.8 377.6Z" fill="#111"/>
<circle cx="93.4" cy="376.5" r="1.35" fill="none" stroke="#111" stroke-width="0.7"/><circle cx="93.4" cy="382.5" r="1.35" fill="none" stroke="#111" stroke-width="0.7"/>
<text x="95.4" y="379.8" font-size="3.6" text-anchor="start" fill="#111" font-family="Liberation Serif" font-weight="bold" >PNGase F</text>
</svg></body></html>
